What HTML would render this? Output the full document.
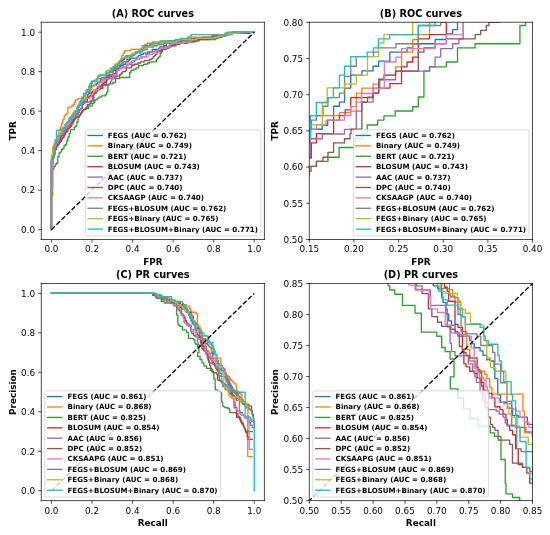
<!DOCTYPE html>
<html><head><meta charset="utf-8"><title>ROC and PR curves</title>
<style>html,body{margin:0;padding:0;background:#fff;}svg{display:block;}
text{font-family:"DejaVu Sans","Liberation Sans",sans-serif;}</style></head>
<body>
<svg width="550" height="535" viewBox="0 0 621.468927 604.519774" version="1.1">
 
 <defs>
  <style type="text/css">*{stroke-linejoin: round; stroke-linecap: butt}</style>
 </defs>
 <g id="figure_1">
  <g id="patch_1">
   <path d="M 0 604.51 L 621.46 604.51 L 621.46 0 L 0 0 z" style="fill: #ffffff"/>
  </g>
  <g id="axes_1">
   <g id="patch_2">
    <path d="M 46.66 270.62 L 298.75 270.62 L 298.75 25.19 L 46.66 25.19 z" style="fill: #ffffff"/>
   </g>
   <g id="matplotlib.axis_1">
    <g id="xtick_1">
     <g id="line2d_1">
      <defs>
       <path id="m1504cfccaf" d="M 0 0 L 0 3.5" style="stroke: #000000; stroke-width: 0.8"/>
      </defs>
      <g>
       <use href="#m1504cfccaf" x="58.125321" y="270.621469" style="stroke: #000000; stroke-width: 0.8"/>
      </g>
     </g>
     <g id="text_1">
      <text style="font-size: 10px; font-family: 'DejaVu Sans', 'Liberation Sans', sans-serif; text-anchor: middle" x="58.125321" y="285.219906" transform="rotate(-0 58.125321 285.219906)">0.0</text>
     </g>
    </g>
    <g id="xtick_2">
     <g id="line2d_2">
      <g>
       <use href="#m1504cfccaf" x="103.959938" y="270.621469" style="stroke: #000000; stroke-width: 0.8"/>
      </g>
     </g>
     <g id="text_2">
      <text style="font-size: 10px; font-family: 'DejaVu Sans', 'Liberation Sans', sans-serif; text-anchor: middle" x="103.959938" y="285.219906" transform="rotate(-0 103.959938 285.219906)">0.2</text>
     </g>
    </g>
    <g id="xtick_3">
     <g id="line2d_3">
      <g>
       <use href="#m1504cfccaf" x="149.794556" y="270.621469" style="stroke: #000000; stroke-width: 0.8"/>
      </g>
     </g>
     <g id="text_3">
      <text style="font-size: 10px; font-family: 'DejaVu Sans', 'Liberation Sans', sans-serif; text-anchor: middle" x="149.794556" y="285.219906" transform="rotate(-0 149.794556 285.219906)">0.4</text>
     </g>
    </g>
    <g id="xtick_4">
     <g id="line2d_4">
      <g>
       <use href="#m1504cfccaf" x="195.629173" y="270.621469" style="stroke: #000000; stroke-width: 0.8"/>
      </g>
     </g>
     <g id="text_4">
      <text style="font-size: 10px; font-family: 'DejaVu Sans', 'Liberation Sans', sans-serif; text-anchor: middle" x="195.629173" y="285.219906" transform="rotate(-0 195.629173 285.219906)">0.6</text>
     </g>
    </g>
    <g id="xtick_5">
     <g id="line2d_5">
      <g>
       <use href="#m1504cfccaf" x="241.46379" y="270.621469" style="stroke: #000000; stroke-width: 0.8"/>
      </g>
     </g>
     <g id="text_5">
      <text style="font-size: 10px; font-family: 'DejaVu Sans', 'Liberation Sans', sans-serif; text-anchor: middle" x="241.46379" y="285.219906" transform="rotate(-0 241.46379 285.219906)">0.8</text>
     </g>
    </g>
    <g id="xtick_6">
     <g id="line2d_6">
      <g>
       <use href="#m1504cfccaf" x="287.298408" y="270.621469" style="stroke: #000000; stroke-width: 0.8"/>
      </g>
     </g>
     <g id="text_6">
      <text style="font-size: 10px; font-family: 'DejaVu Sans', 'Liberation Sans', sans-serif; text-anchor: middle" x="287.298408" y="285.219906" transform="rotate(-0 287.298408 285.219906)">1.0</text>
     </g>
    </g>
    <g id="text_7">
     <text style="font-weight: 700; font-size: 10px; font-family: 'DejaVu Sans', 'Liberation Sans', sans-serif; text-anchor: middle" x="172.711864" y="298.898031" transform="rotate(-0 172.711864 298.898031)">FPR</text>
    </g>
   </g>
   <g id="matplotlib.axis_2">
    <g id="ytick_1">
     <g id="line2d_7">
      <defs>
       <path id="m5d545ce8f8" d="M 0 0 L -3.5 0" style="stroke: #000000; stroke-width: 0.8"/>
      </defs>
      <g>
       <use href="#m5d545ce8f8" x="46.666667" y="259.465845" style="stroke: #000000; stroke-width: 0.8"/>
      </g>
     </g>
     <g id="text_8">
      <text style="font-size: 10px; font-family: 'DejaVu Sans', 'Liberation Sans', sans-serif; text-anchor: end" x="39.666667" y="263.265064" transform="rotate(-0 39.666667 263.265064)">0.0</text>
     </g>
    </g>
    <g id="ytick_2">
     <g id="line2d_8">
      <g>
       <use href="#m5d545ce8f8" x="46.666667" y="214.843349" style="stroke: #000000; stroke-width: 0.8"/>
      </g>
     </g>
     <g id="text_9">
      <text style="font-size: 10px; font-family: 'DejaVu Sans', 'Liberation Sans', sans-serif; text-anchor: end" x="39.666667" y="218.642567" transform="rotate(-0 39.666667 218.642567)">0.2</text>
     </g>
    </g>
    <g id="ytick_3">
     <g id="line2d_9">
      <g>
       <use href="#m5d545ce8f8" x="46.666667" y="170.220853" style="stroke: #000000; stroke-width: 0.8"/>
      </g>
     </g>
     <g id="text_10">
      <text style="font-size: 10px; font-family: 'DejaVu Sans', 'Liberation Sans', sans-serif; text-anchor: end" x="39.666667" y="174.020071" transform="rotate(-0 39.666667 174.020071)">0.4</text>
     </g>
    </g>
    <g id="ytick_4">
     <g id="line2d_10">
      <g>
       <use href="#m5d545ce8f8" x="46.666667" y="125.598356" style="stroke: #000000; stroke-width: 0.8"/>
      </g>
     </g>
     <g id="text_11">
      <text style="font-size: 10px; font-family: 'DejaVu Sans', 'Liberation Sans', sans-serif; text-anchor: end" x="39.666667" y="129.397575" transform="rotate(-0 39.666667 129.397575)">0.6</text>
     </g>
    </g>
    <g id="ytick_5">
     <g id="line2d_11">
      <g>
       <use href="#m5d545ce8f8" x="46.666667" y="80.97586" style="stroke: #000000; stroke-width: 0.8"/>
      </g>
     </g>
     <g id="text_12">
      <text style="font-size: 10px; font-family: 'DejaVu Sans', 'Liberation Sans', sans-serif; text-anchor: end" x="39.666667" y="84.775079" transform="rotate(-0 39.666667 84.775079)">0.8</text>
     </g>
    </g>
    <g id="ytick_6">
     <g id="line2d_12">
      <g>
       <use href="#m5d545ce8f8" x="46.666667" y="36.353364" style="stroke: #000000; stroke-width: 0.8"/>
      </g>
     </g>
     <g id="text_13">
      <text style="font-size: 10px; font-family: 'DejaVu Sans', 'Liberation Sans', sans-serif; text-anchor: end" x="39.666667" y="40.152583" transform="rotate(-0 39.666667 40.152583)">1.0</text>
     </g>
    </g>
    <g id="text_14">
     <text style="font-weight: 700; font-size: 10px; font-family: 'DejaVu Sans', 'Liberation Sans', sans-serif; text-anchor: middle" x="17.683854" y="147.909605" transform="rotate(-90 17.683854 147.909605)">TPR</text>
    </g>
   </g>
   <g id="line2d_13">
    <path d="M 58.12 259.46 L 58.12 181.65 L 59.55 181.65 L 59.55 173.28 L 60.98 173.28 L 60.98 169.10 L 62.42 169.10 L 62.42 164.92 L 63.85 164.92 L 63.85 162.13 L 65.28 162.13 L 65.28 157.94 L 66.71 157.94 L 66.71 156.55 L 68.15 156.55 L 68.15 153.76 L 69.58 153.76 L 69.58 152.37 L 71.01 152.37 L 71.01 148.18 L 72.44 148.18 L 72.44 145.39 L 73.88 145.39 L 73.88 144.00 L 75.31 144.00 L 75.31 141.21 L 76.74 141.21 L 76.74 138.42 L 78.17 138.42 L 78.17 135.63 L 79.61 135.63 L 79.61 134.24 L 81.04 134.24 L 81.04 131.45 L 82.47 131.45 L 82.47 128.66 L 83.90 128.66 L 83.90 127.27 L 85.33 127.27 L 85.33 125.87 L 86.77 125.87 L 86.77 124.48 L 88.20 124.48 L 88.20 120.29 L 89.63 120.29 L 89.63 118.90 L 91.06 118.90 L 91.06 117.51 L 92.79 117.51 L 92.79 113.92 L 95.82 113.92 L 95.82 112.70 L 97.22 112.70 L 97.22 111.14 L 98.73 111.14 L 98.73 106.85 L 100.24 106.85 L 100.24 105.56 L 101.55 105.56 L 101.55 101.25 L 103.13 101.25 L 103.13 97.26 L 105.99 97.26 L 105.99 95.92 L 108.88 95.92 L 108.88 94.51 L 110.30 94.51 L 110.30 92.95 L 113.19 92.95 L 113.19 90.16 L 117.59 90.16 L 117.59 88.87 L 119.03 88.87 L 119.03 87.57 L 124.79 87.57 L 124.79 86.28 L 127.67 86.28 L 127.67 84.54 L 129.28 84.54 L 129.28 83.25 L 130.54 83.25 L 130.54 79.58 L 131.97 79.58 L 131.97 78.18 L 133.40 78.18 L 133.40 76.79 L 134.84 76.79 L 134.84 75.39 L 136.27 75.39 L 136.27 74.00 L 139.13 74.00 L 139.13 72.60 L 142.00 72.60 L 142.00 69.82 L 144.86 69.82 L 144.86 68.42 L 146.29 68.42 L 146.29 67.03 L 147.73 67.03 L 147.73 65.63 L 154.89 65.63 L 154.89 64.24 L 156.32 64.24 L 156.32 62.84 L 159.19 62.84 L 159.19 61.45 L 162.05 61.45 L 162.05 60.05 L 166.35 60.05 L 166.35 58.66 L 172.08 58.66 L 172.08 55.87 L 179.24 55.87 L 179.24 54.48 L 180.67 54.48 L 180.67 53.08 L 184.97 53.08 L 184.97 51.69 L 187.83 51.69 L 187.83 48.90 L 196.43 48.90 L 196.43 47.50 L 203.59 47.50 L 203.59 46.11 L 216.48 46.11 L 216.48 44.72 L 220.78 44.72 L 220.78 43.32 L 239.40 43.32 L 239.40 41.93 L 246.56 41.93 L 246.56 40.53 L 250.85 40.53 L 250.85 39.14 L 256.58 39.14 L 256.58 37.74 L 262.31 37.74 L 262.31 36.35 L 287.29 36.35 L 287.29 36.35" clip-path="url(#pe0418c8fc1)" style="fill: none; stroke: #1f77b4; stroke-width: 1.5; stroke-linecap: square"/>
   </g>
   <g id="line2d_14">
    <path d="M 58.12 259.46 L 58.12 221.53 L 59.55 221.53 L 59.55 171.33 L 60.98 171.33 L 60.98 165.75 L 62.42 165.75 L 62.42 162.96 L 63.85 162.96 L 63.85 158.78 L 65.28 158.78 L 65.28 155.99 L 66.71 155.99 L 66.71 147.63 L 68.15 147.63 L 68.15 143.44 L 69.58 143.44 L 69.58 139.26 L 71.01 139.26 L 71.01 135.08 L 72.44 135.08 L 72.44 130.89 L 73.88 130.89 L 73.88 129.50 L 75.31 129.50 L 75.31 128.10 L 76.74 128.10 L 76.74 121.13 L 81.04 121.13 L 81.04 119.74 L 82.47 119.74 L 82.47 118.34 L 83.90 118.34 L 83.90 115.55 L 85.33 115.55 L 85.33 112.76 L 88.20 112.76 L 88.20 111.37 L 92.43 111.37 L 92.43 109.71 L 100.24 109.71 L 100.24 108.79 L 103.13 108.79 L 103.13 108.32 L 104.55 108.32 L 104.55 102.79 L 105.99 102.79 L 105.99 101.25 L 108.88 101.25 L 108.88 100.02 L 110.30 100.02 L 110.30 98.60 L 111.66 98.60 L 111.66 97.30 L 114.63 97.30 L 114.63 94.69 L 116.17 94.69 L 116.17 90.16 L 119.03 90.16 L 119.03 86.28 L 120.48 86.28 L 120.48 84.76 L 123.37 84.76 L 123.37 80.97 L 124.80 80.97 L 124.80 79.58 L 126.23 79.58 L 126.23 76.79 L 130.53 76.79 L 130.53 74.00 L 133.39 74.00 L 133.39 72.60 L 134.82 72.60 L 134.82 69.82 L 136.26 69.82 L 136.26 67.03 L 137.69 67.03 L 137.69 62.84 L 139.12 62.84 L 139.12 60.05 L 140.55 60.05 L 140.55 57.27 L 147.72 57.27 L 147.72 55.87 L 160.61 55.87 L 160.61 51.69 L 163.47 51.69 L 163.47 50.29 L 166.34 50.29 L 166.34 48.90 L 172.07 48.90 L 172.07 47.50 L 183.52 47.50 L 183.52 46.11 L 200.71 46.11 L 200.71 44.72 L 210.74 44.72 L 210.74 43.32 L 212.17 43.32 L 212.17 41.93 L 239.38 41.93 L 239.38 40.53 L 253.71 40.53 L 253.71 37.74 L 272.33 37.74 L 272.33 36.35 L 287.29 36.35 L 287.29 36.35" clip-path="url(#pe0418c8fc1)" style="fill: none; stroke: #ff7f0e; stroke-width: 1.5; stroke-linecap: square"/>
   </g>
   <g id="line2d_15">
    <path d="M 58.12 259.46 L 58.12 192.53 L 59.55 192.53 L 59.55 191.13 L 60.98 191.13 L 60.98 188.34 L 62.42 188.34 L 62.42 185.55 L 63.85 185.55 L 63.85 184.16 L 65.28 184.16 L 65.28 177.19 L 66.71 177.19 L 66.71 173.00 L 68.15 173.00 L 68.15 171.61 L 69.58 171.61 L 69.58 168.82 L 71.01 168.82 L 71.01 167.43 L 72.44 167.43 L 72.44 164.64 L 73.88 164.64 L 73.88 163.24 L 75.31 163.24 L 75.31 159.06 L 76.74 159.06 L 76.74 154.88 L 78.17 154.88 L 78.17 150.69 L 79.61 150.69 L 79.61 146.51 L 83.90 146.51 L 83.90 143.72 L 85.33 143.72 L 85.33 142.33 L 86.77 142.33 L 86.77 138.14 L 88.20 138.14 L 88.20 132.57 L 89.63 132.57 L 89.63 129.78 L 91.06 129.78 L 91.06 128.38 L 92.43 128.38 L 92.43 125.37 L 94.33 125.37 L 94.33 123.85 L 97.29 123.85 L 97.29 122.56 L 100.15 122.56 L 100.15 119.55 L 104.30 119.55 L 104.30 116.78 L 106.02 116.78 L 106.02 115.44 L 107.35 115.44 L 107.35 112.63 L 110.05 112.63 L 110.05 111.11 L 111.66 111.11 L 111.66 109.82 L 114.54 109.82 L 114.54 108.30 L 119.03 108.30 L 119.03 107.01 L 120.48 107.01 L 120.48 104.00 L 121.92 104.00 L 121.92 96.01 L 123.37 96.01 L 123.37 94.69 L 127.67 94.69 L 127.67 93.20 L 130.54 93.20 L 130.54 88.87 L 135.05 88.87 L 135.05 87.57 L 146.56 87.57 L 146.56 81.95 L 148.00 81.95 L 148.00 79.58 L 150.87 79.58 L 150.87 78.18 L 153.73 78.18 L 153.73 76.79 L 156.60 76.79 L 156.60 74.00 L 162.33 74.00 L 162.33 72.60 L 166.62 72.60 L 166.62 71.21 L 169.49 71.21 L 169.49 69.82 L 176.65 69.82 L 176.65 67.03 L 178.08 67.03 L 178.08 65.63 L 179.51 65.63 L 179.51 64.24 L 180.95 64.24 L 180.95 60.05 L 182.38 60.05 L 182.38 58.66 L 183.81 58.66 L 183.81 55.87 L 188.11 55.87 L 188.11 54.48 L 190.97 54.48 L 190.97 51.69 L 192.40 51.69 L 192.40 50.29 L 198.13 50.29 L 198.13 48.90 L 199.57 48.90 L 199.57 47.50 L 203.86 47.50 L 203.86 46.11 L 225.35 46.11 L 225.35 44.72 L 243.97 44.72 L 243.97 43.32 L 246.83 43.32 L 246.83 41.93 L 251.13 41.93 L 251.13 40.53 L 255.43 40.53 L 255.43 37.74 L 271.18 37.74 L 271.18 36.35 L 287.29 36.35 L 287.29 36.35" clip-path="url(#pe0418c8fc1)" style="fill: none; stroke: #2ca02c; stroke-width: 1.5; stroke-linecap: square"/>
   </g>
   <g id="line2d_16">
    <path d="M 58.12 259.46 L 58.12 188.34 L 59.55 188.34 L 59.55 178.58 L 60.98 178.58 L 60.98 174.40 L 62.42 174.40 L 62.42 168.82 L 63.85 168.82 L 63.85 164.64 L 65.28 164.64 L 65.28 163.24 L 66.71 163.24 L 66.71 159.06 L 68.15 159.06 L 68.15 157.67 L 69.58 157.67 L 69.58 153.48 L 71.01 153.48 L 71.01 152.09 L 72.44 152.09 L 72.44 150.69 L 73.88 150.69 L 73.88 147.90 L 75.31 147.90 L 75.31 145.12 L 76.74 145.12 L 76.74 143.72 L 78.17 143.72 L 78.17 142.33 L 79.61 142.33 L 79.61 139.54 L 81.04 139.54 L 81.04 138.14 L 82.47 138.14 L 82.47 135.35 L 83.90 135.35 L 83.90 132.57 L 85.33 132.57 L 85.33 129.78 L 88.20 129.78 L 88.20 126.99 L 89.63 126.99 L 89.63 124.20 L 91.06 124.20 L 91.06 122.80 L 93.02 122.80 L 93.02 118.14 L 94.31 118.14 L 94.31 115.29 L 98.73 115.29 L 98.73 111.14 L 100.24 111.14 L 100.24 109.71 L 101.69 109.71 L 101.69 107.97 L 103.13 107.97 L 103.13 104.17 L 108.74 104.17 L 108.74 102.79 L 110.30 102.79 L 110.30 101.25 L 113.19 101.25 L 113.19 99.89 L 116.17 99.89 L 116.17 94.69 L 117.59 94.69 L 117.59 93.20 L 119.03 93.20 L 119.03 91.68 L 120.48 91.68 L 120.48 86.06 L 123.37 86.06 L 123.37 84.76 L 127.67 84.76 L 127.67 79.58 L 129.11 79.58 L 129.11 78.18 L 130.54 78.18 L 130.54 76.79 L 131.97 76.79 L 131.97 74.00 L 133.40 74.00 L 133.40 72.60 L 134.84 72.60 L 134.84 69.82 L 137.70 69.82 L 137.70 68.42 L 139.13 68.42 L 139.13 67.03 L 140.57 67.03 L 140.57 65.63 L 143.43 65.63 L 143.43 64.24 L 144.86 64.24 L 144.86 62.84 L 147.73 62.84 L 147.73 61.45 L 152.02 61.45 L 152.02 60.05 L 153.46 60.05 L 153.46 58.66 L 157.75 58.66 L 157.75 55.87 L 162.05 55.87 L 162.05 54.48 L 163.48 54.48 L 163.48 53.08 L 164.91 53.08 L 164.91 51.69 L 170.64 51.69 L 170.64 50.29 L 182.10 50.29 L 182.10 48.90 L 184.97 48.90 L 184.97 47.50 L 190.70 47.50 L 190.70 46.11 L 199.29 46.11 L 199.29 44.72 L 223.64 44.72 L 223.64 43.32 L 237.96 43.32 L 237.96 41.93 L 239.40 41.93 L 239.40 40.53 L 253.72 40.53 L 253.72 39.14 L 256.58 39.14 L 256.58 37.74 L 282.37 37.74 L 282.37 36.35 L 287.29 36.35 L 287.29 36.35" clip-path="url(#pe0418c8fc1)" style="fill: none; stroke: #d62728; stroke-width: 1.5; stroke-linecap: square"/>
   </g>
   <g id="line2d_17">
    <path d="M 58.12 259.46 L 58.12 183.88 L 59.55 183.88 L 59.55 176.91 L 60.98 176.91 L 60.98 171.33 L 62.42 171.33 L 62.42 167.15 L 63.85 167.15 L 63.85 164.36 L 65.28 164.36 L 65.28 162.96 L 66.71 162.96 L 66.71 160.18 L 68.15 160.18 L 68.15 158.78 L 69.58 158.78 L 69.58 154.60 L 71.01 154.60 L 71.01 151.81 L 72.44 151.81 L 72.44 149.02 L 73.88 149.02 L 73.88 146.23 L 75.31 146.23 L 75.31 144.84 L 76.74 144.84 L 76.74 143.44 L 78.17 143.44 L 78.17 140.65 L 79.61 140.65 L 79.61 136.47 L 81.04 136.47 L 81.04 135.08 L 82.47 135.08 L 82.47 133.68 L 83.90 133.68 L 83.90 132.29 L 85.33 132.29 L 85.33 129.50 L 86.77 129.50 L 86.77 128.10 L 88.20 128.10 L 88.20 126.71 L 89.63 126.71 L 89.63 123.92 L 91.06 123.92 L 91.06 122.53 L 92.79 122.53 L 92.79 116.85 L 95.82 116.85 L 95.82 115.40 L 101.53 115.40 L 101.53 113.99 L 104.55 113.99 L 104.55 108.32 L 105.99 108.32 L 105.99 105.56 L 108.88 105.56 L 108.88 101.25 L 110.60 101.25 L 110.60 98.66 L 114.63 98.66 L 114.63 96.01 L 123.37 96.01 L 123.37 94.69 L 124.79 94.69 L 124.79 91.68 L 126.23 91.68 L 126.23 89.09 L 129.28 89.09 L 129.28 87.57 L 130.91 87.57 L 130.91 86.06 L 131.98 86.06 L 131.98 79.58 L 134.85 79.58 L 134.85 76.79 L 142.01 76.79 L 142.01 75.39 L 143.44 75.39 L 143.44 72.60 L 149.17 72.60 L 149.17 69.82 L 152.04 69.82 L 152.04 68.42 L 153.47 68.42 L 153.47 67.03 L 157.76 67.03 L 157.76 65.63 L 160.63 65.63 L 160.63 64.24 L 164.93 64.24 L 164.93 61.45 L 167.79 61.45 L 167.79 60.05 L 169.22 60.05 L 169.22 58.66 L 174.95 58.66 L 174.95 57.27 L 180.68 57.27 L 180.68 55.87 L 183.55 55.87 L 183.55 54.48 L 184.98 54.48 L 184.98 53.08 L 193.57 53.08 L 193.57 51.69 L 195.01 51.69 L 195.01 50.29 L 196.44 50.29 L 196.44 48.90 L 212.19 48.90 L 212.19 47.50 L 213.63 47.50 L 213.63 46.11 L 217.92 46.11 L 217.92 44.72 L 219.36 44.72 L 219.36 43.32 L 240.84 43.32 L 240.84 41.93 L 248.00 41.93 L 248.00 40.53 L 255.16 40.53 L 255.16 39.14 L 262.33 39.14 L 262.33 37.74 L 276.65 37.74 L 276.65 36.35 L 287.29 36.35 L 287.29 36.35" clip-path="url(#pe0418c8fc1)" style="fill: none; stroke: #9467bd; stroke-width: 1.5; stroke-linecap: square"/>
   </g>
   <g id="line2d_18">
    <path d="M 58.12 259.46 L 58.12 183.32 L 59.55 183.32 L 59.55 174.96 L 60.98 174.96 L 60.98 170.77 L 62.42 170.77 L 62.42 166.59 L 63.85 166.59 L 63.85 165.20 L 65.28 165.20 L 65.28 162.41 L 66.71 162.41 L 66.71 161.01 L 68.15 161.01 L 68.15 159.62 L 69.58 159.62 L 69.58 156.83 L 71.01 156.83 L 71.01 155.43 L 72.44 155.43 L 72.44 152.65 L 73.88 152.65 L 73.88 149.86 L 75.31 149.86 L 75.31 148.46 L 76.74 148.46 L 76.74 145.67 L 78.17 145.67 L 78.17 144.28 L 79.61 144.28 L 79.61 142.88 L 81.04 142.88 L 81.04 140.10 L 82.47 140.10 L 82.47 137.31 L 83.90 137.31 L 83.90 134.52 L 85.33 134.52 L 85.33 133.12 L 86.77 133.12 L 86.77 131.73 L 89.63 131.73 L 89.63 130.33 L 91.06 130.33 L 91.06 127.55 L 92.43 127.55 L 92.43 126.89 L 92.95 126.89 L 92.95 125.37 L 94.33 125.37 L 94.33 123.85 L 96.03 123.85 L 96.03 122.56 L 97.29 122.56 L 97.29 121.04 L 98.73 121.04 L 98.73 118.14 L 101.53 118.14 L 101.53 116.85 L 102.95 116.85 L 102.95 115.29 L 103.20 115.29 L 103.20 113.92 L 105.99 113.92 L 105.99 105.56 L 107.44 105.56 L 107.44 104.02 L 108.88 104.02 L 108.88 102.79 L 110.30 102.79 L 110.30 98.49 L 111.75 98.49 L 111.75 97.26 L 114.63 97.26 L 114.63 96.01 L 120.48 96.01 L 120.48 90.16 L 121.92 90.16 L 121.92 88.87 L 124.79 88.87 L 124.79 87.57 L 127.67 87.57 L 127.67 86.06 L 135.05 86.06 L 135.05 84.76 L 136.47 84.76 L 136.47 83.47 L 137.92 83.47 L 137.92 81.95 L 138.63 81.95 L 138.63 80.97 L 141.49 80.97 L 141.49 79.58 L 142.93 79.58 L 142.93 76.79 L 148.66 76.79 L 148.66 74.00 L 151.52 74.00 L 151.52 72.60 L 155.82 72.60 L 155.82 71.21 L 158.68 71.21 L 158.68 69.82 L 162.98 69.82 L 162.98 68.42 L 168.71 68.42 L 168.71 67.03 L 171.57 67.03 L 171.57 65.63 L 173.00 65.63 L 173.00 64.24 L 174.44 64.24 L 174.44 62.84 L 175.87 62.84 L 175.87 61.45 L 177.30 61.45 L 177.30 58.66 L 181.60 58.66 L 181.60 57.27 L 183.03 57.27 L 183.03 55.87 L 185.90 55.87 L 185.90 54.48 L 190.19 54.48 L 190.19 53.08 L 191.63 53.08 L 191.63 51.69 L 198.79 51.69 L 198.79 50.29 L 203.08 50.29 L 203.08 48.90 L 208.81 48.90 L 208.81 47.50 L 220.27 47.50 L 220.27 46.11 L 223.14 46.11 L 223.14 44.72 L 237.46 44.72 L 237.46 43.32 L 243.19 43.32 L 243.19 41.93 L 244.62 41.93 L 244.62 40.53 L 254.65 40.53 L 254.65 39.14 L 258.94 39.14 L 258.94 37.74 L 266.11 37.74 L 266.11 36.35 L 287.29 36.35 L 287.29 36.35" clip-path="url(#pe0418c8fc1)" style="fill: none; stroke: #8c564b; stroke-width: 1.5; stroke-linecap: square"/>
   </g>
   <g id="line2d_19">
    <path d="M 58.12 259.46 L 58.12 213.44 L 59.55 213.44 L 59.55 177.19 L 60.98 177.19 L 60.98 167.43 L 62.42 167.43 L 62.42 163.24 L 63.85 163.24 L 63.85 161.85 L 65.28 161.85 L 65.28 157.67 L 66.71 157.67 L 66.71 153.48 L 68.15 153.48 L 68.15 152.09 L 69.58 152.09 L 69.58 149.30 L 71.01 149.30 L 71.01 146.51 L 72.44 146.51 L 72.44 145.12 L 73.88 145.12 L 73.88 143.72 L 75.31 143.72 L 75.31 140.93 L 76.74 140.93 L 76.74 139.54 L 78.17 139.54 L 78.17 138.14 L 79.61 138.14 L 79.61 133.96 L 81.04 133.96 L 81.04 132.57 L 82.47 132.57 L 82.47 129.78 L 83.90 129.78 L 83.90 126.99 L 86.77 126.99 L 86.77 122.80 L 88.20 122.80 L 88.20 121.41 L 89.63 121.41 L 89.63 118.62 L 91.06 118.62 L 91.06 117.23 L 92.79 117.23 L 92.79 113.99 L 94.31 113.99 L 94.31 112.56 L 96.78 112.56 L 96.78 111.14 L 101.53 111.14 L 101.53 109.71 L 103.13 109.71 L 103.13 106.94 L 104.55 106.94 L 104.55 105.56 L 105.90 105.56 L 105.90 102.90 L 108.97 102.90 L 108.97 101.41 L 111.75 101.41 L 111.75 93.20 L 114.73 93.20 L 114.73 91.68 L 116.17 91.68 L 116.17 89.09 L 124.79 89.09 L 124.79 87.57 L 127.67 87.57 L 127.67 84.76 L 131.98 84.76 L 131.98 79.58 L 134.85 79.58 L 134.85 78.18 L 137.71 78.18 L 137.71 75.39 L 143.44 75.39 L 143.44 74.00 L 144.87 74.00 L 144.87 72.60 L 146.31 72.60 L 146.31 71.21 L 147.74 71.21 L 147.74 69.82 L 149.17 69.82 L 149.17 68.42 L 153.47 68.42 L 153.47 67.03 L 157.76 67.03 L 157.76 65.63 L 159.20 65.63 L 159.20 64.24 L 167.79 64.24 L 167.79 61.45 L 172.09 61.45 L 172.09 60.05 L 176.39 60.05 L 176.39 57.27 L 179.25 57.27 L 179.25 55.87 L 180.68 55.87 L 180.68 54.48 L 187.84 54.48 L 187.84 53.08 L 192.14 53.08 L 192.14 50.29 L 193.57 50.29 L 193.57 48.90 L 207.90 48.90 L 207.90 47.50 L 215.06 47.50 L 215.06 46.11 L 216.49 46.11 L 216.49 44.72 L 219.36 44.72 L 219.36 43.32 L 236.54 43.32 L 236.54 41.93 L 249.43 41.93 L 249.43 40.53 L 253.73 40.53 L 253.73 39.14 L 260.89 39.14 L 260.89 37.74 L 270.92 37.74 L 270.92 36.35 L 287.29 36.35 L 287.29 36.35" clip-path="url(#pe0418c8fc1)" style="fill: none; stroke: #e377c2; stroke-width: 1.5; stroke-linecap: square"/>
   </g>
   <g id="line2d_20">
    <path d="M 58.12 259.46 L 58.12 179.42 L 59.55 179.42 L 59.55 168.26 L 60.98 168.26 L 60.98 164.08 L 62.42 164.08 L 62.42 162.69 L 63.85 162.69 L 63.85 157.11 L 65.28 157.11 L 65.28 154.32 L 66.71 154.32 L 66.71 152.92 L 68.15 152.92 L 68.15 150.14 L 69.58 150.14 L 69.58 148.74 L 71.01 148.74 L 71.01 145.95 L 72.44 145.95 L 72.44 144.56 L 73.88 144.56 L 73.88 140.37 L 75.31 140.37 L 75.31 138.98 L 76.74 138.98 L 76.74 137.59 L 78.17 137.59 L 78.17 133.40 L 81.04 133.40 L 81.04 130.61 L 82.47 130.61 L 82.47 127.82 L 83.90 127.82 L 83.90 126.43 L 85.33 126.43 L 85.33 125.04 L 86.77 125.04 L 86.77 120.85 L 88.20 120.85 L 88.20 119.46 L 89.63 119.46 L 89.63 115.27 L 91.06 115.27 L 91.06 113.88 L 93.02 113.88 L 93.02 111.14 L 94.31 111.14 L 94.31 109.71 L 96.03 109.71 L 96.03 106.85 L 97.29 106.85 L 97.29 104.17 L 100.24 104.17 L 100.24 102.79 L 101.55 102.79 L 101.55 97.62 L 103.13 97.62 L 103.13 94.51 L 104.55 94.51 L 104.55 91.57 L 108.97 91.57 L 108.97 90.16 L 110.23 90.16 L 110.23 88.87 L 114.73 88.87 L 114.73 87.57 L 120.48 87.57 L 120.48 81.95 L 126.23 81.95 L 126.23 80.97 L 127.66 80.97 L 127.66 78.18 L 129.10 78.18 L 129.10 76.79 L 130.53 76.79 L 130.53 75.39 L 131.96 75.39 L 131.96 74.00 L 136.26 74.00 L 136.26 72.60 L 137.69 72.60 L 137.69 71.21 L 139.12 71.21 L 139.12 69.82 L 143.42 69.82 L 143.42 67.03 L 146.28 67.03 L 146.28 64.24 L 149.15 64.24 L 149.15 62.84 L 150.58 62.84 L 150.58 61.45 L 152.01 61.45 L 152.01 60.05 L 159.17 60.05 L 159.17 58.66 L 160.61 58.66 L 160.61 57.27 L 163.47 57.27 L 163.47 55.87 L 166.34 55.87 L 166.34 53.08 L 173.50 53.08 L 173.50 51.69 L 177.79 51.69 L 177.79 50.29 L 184.96 50.29 L 184.96 48.90 L 190.69 48.90 L 190.69 47.50 L 199.28 47.50 L 199.28 46.11 L 207.87 46.11 L 207.87 44.72 L 215.04 44.72 L 215.04 43.32 L 227.93 43.32 L 227.93 41.93 L 250.84 41.93 L 250.84 40.53 L 252.28 40.53 L 252.28 39.14 L 253.71 39.14 L 253.71 37.74 L 260.87 37.74 L 260.87 36.35 L 287.29 36.35 L 287.29 36.35" clip-path="url(#pe0418c8fc1)" style="fill: none; stroke: #7f7f7f; stroke-width: 1.5; stroke-linecap: square"/>
   </g>
   <g id="line2d_21">
    <path d="M 58.12 259.46 L 58.12 174.96 L 59.55 174.96 L 59.55 165.20 L 60.98 165.20 L 60.98 162.41 L 62.42 162.41 L 62.42 158.22 L 63.85 158.22 L 63.85 156.83 L 65.28 156.83 L 65.28 152.65 L 66.71 152.65 L 66.71 151.25 L 68.15 151.25 L 68.15 149.86 L 69.58 149.86 L 69.58 147.07 L 71.01 147.07 L 71.01 144.28 L 72.44 144.28 L 72.44 141.49 L 73.88 141.49 L 73.88 140.10 L 76.74 140.10 L 76.74 137.31 L 78.17 137.31 L 78.17 133.12 L 79.61 133.12 L 79.61 131.73 L 81.04 131.73 L 81.04 128.94 L 82.47 128.94 L 82.47 127.55 L 83.90 127.55 L 83.90 124.76 L 86.77 124.76 L 86.77 121.97 L 88.20 121.97 L 88.20 119.18 L 89.63 119.18 L 89.63 116.39 L 92.79 116.39 L 92.79 112.56 L 95.82 112.56 L 95.82 105.69 L 97.08 105.69 L 97.08 101.18 L 101.55 101.18 L 101.55 100.02 L 104.55 100.02 L 104.55 97.26 L 107.44 97.26 L 107.44 91.57 L 110.30 91.57 L 110.30 87.35 L 111.66 87.35 L 111.66 84.76 L 119.03 84.76 L 119.03 80.97 L 120.47 80.97 L 120.47 79.58 L 123.33 79.58 L 123.33 78.18 L 124.76 78.18 L 124.76 76.79 L 127.63 76.79 L 127.63 75.39 L 129.06 75.39 L 129.06 72.60 L 131.93 72.60 L 131.93 71.21 L 133.36 71.21 L 133.36 69.82 L 134.79 69.82 L 134.79 68.42 L 136.22 68.42 L 136.22 65.63 L 144.82 65.63 L 144.82 64.24 L 146.25 64.24 L 146.25 62.84 L 147.68 62.84 L 147.68 61.45 L 149.11 61.45 L 149.11 60.05 L 156.28 60.05 L 156.28 57.27 L 157.71 57.27 L 157.71 55.87 L 163.44 55.87 L 163.44 54.48 L 166.30 54.48 L 166.30 53.08 L 170.60 53.08 L 170.60 51.69 L 172.03 51.69 L 172.03 50.29 L 177.76 50.29 L 177.76 48.90 L 184.92 48.90 L 184.92 47.50 L 199.25 47.50 L 199.25 46.11 L 202.11 46.11 L 202.11 44.72 L 222.16 44.72 L 222.16 43.32 L 243.65 43.32 L 243.65 41.93 L 246.51 41.93 L 246.51 40.53 L 252.24 40.53 L 252.24 39.14 L 253.67 39.14 L 253.67 37.74 L 268.00 37.74 L 268.00 36.35 L 287.29 36.35 L 287.29 36.35" clip-path="url(#pe0418c8fc1)" style="fill: none; stroke: #bcbd22; stroke-width: 1.5; stroke-linecap: square"/>
   </g>
   <g id="line2d_22">
    <path d="M 58.12 259.46 L 58.12 179.14 L 59.55 179.14 L 59.55 177.75 L 60.98 177.75 L 60.98 174.96 L 62.42 174.96 L 62.42 158.22 L 63.85 158.22 L 63.85 147.07 L 69.58 147.07 L 69.58 145.67 L 71.01 145.67 L 71.01 144.28 L 73.88 144.28 L 73.88 140.10 L 75.31 140.10 L 75.31 138.70 L 76.74 138.70 L 76.74 137.31 L 78.17 137.31 L 78.17 134.52 L 79.61 134.52 L 79.61 131.73 L 82.47 131.73 L 82.47 130.33 L 83.90 130.33 L 83.90 128.94 L 85.33 128.94 L 85.33 126.15 L 86.77 126.15 L 86.77 121.97 L 88.20 121.97 L 88.20 119.18 L 91.06 119.18 L 91.06 116.39 L 92.79 116.39 L 92.79 109.71 L 94.31 109.71 L 94.31 105.69 L 97.22 105.69 L 97.22 104.17 L 98.68 104.17 L 98.68 101.18 L 100.24 101.18 L 100.24 97.26 L 101.55 97.26 L 101.55 94.51 L 103.13 94.51 L 103.13 91.57 L 107.35 91.57 L 107.35 90.16 L 108.97 90.16 L 108.97 88.87 L 110.23 88.87 L 110.23 86.06 L 113.12 86.06 L 113.12 84.76 L 120.48 84.76 L 120.48 81.95 L 124.79 81.95 L 124.79 79.58 L 126.22 79.58 L 126.22 78.18 L 127.65 78.18 L 127.65 75.39 L 130.52 75.39 L 130.52 74.00 L 133.38 74.00 L 133.38 72.60 L 134.81 72.60 L 134.81 69.82 L 136.25 69.82 L 136.25 68.42 L 137.68 68.42 L 137.68 67.03 L 139.11 67.03 L 139.11 65.63 L 140.54 65.63 L 140.54 64.24 L 141.97 64.24 L 141.97 62.84 L 152.00 62.84 L 152.00 61.45 L 153.43 61.45 L 153.43 58.66 L 157.73 58.66 L 157.73 57.27 L 159.16 57.27 L 159.16 55.87 L 160.60 55.87 L 160.60 54.48 L 162.03 54.48 L 162.03 53.08 L 164.89 53.08 L 164.89 51.69 L 169.19 51.69 L 169.19 50.29 L 172.05 50.29 L 172.05 48.90 L 179.22 48.90 L 179.22 47.50 L 180.65 47.50 L 180.65 46.11 L 197.84 46.11 L 197.84 44.72 L 203.57 44.72 L 203.57 43.32 L 213.59 43.32 L 213.59 41.93 L 215.02 41.93 L 215.02 40.53 L 216.46 40.53 L 216.46 39.14 L 256.56 39.14 L 256.56 36.35 L 287.29 36.35 L 287.29 36.35" clip-path="url(#pe0418c8fc1)" style="fill: none; stroke: #17becf; stroke-width: 1.5; stroke-linecap: square"/>
   </g>
   <g id="line2d_23">
    <path d="M 58.12 259.46 L 287.29 36.35" clip-path="url(#pe0418c8fc1)" style="fill: none; stroke-dasharray: 5.55,2.4; stroke-dashoffset: 0; stroke: #000000; stroke-width: 1.5"/>
   </g>
   <g id="patch_3">
    <path d="M 46.66 270.62 L 46.66 25.19" style="fill: none; stroke: #000000; stroke-width: 0.8; stroke-linejoin: miter; stroke-linecap: square"/>
   </g>
   <g id="patch_4">
    <path d="M 298.75 270.62 L 298.75 25.19" style="fill: none; stroke: #000000; stroke-width: 0.8; stroke-linejoin: miter; stroke-linecap: square"/>
   </g>
   <g id="patch_5">
    <path d="M 46.66 270.62 L 298.75 270.62" style="fill: none; stroke: #000000; stroke-width: 0.8; stroke-linejoin: miter; stroke-linecap: square"/>
   </g>
   <g id="patch_6">
    <path d="M 46.66 25.19 L 298.75 25.19" style="fill: none; stroke: #000000; stroke-width: 0.8; stroke-linejoin: miter; stroke-linecap: square"/>
   </g>
   <g id="text_15">
    <text style="font-weight: 700; font-size: 11px; font-family: 'DejaVu Sans', 'Liberation Sans', sans-serif; text-anchor: middle" x="172.711864" y="19.19774" transform="rotate(-0 172.711864 19.19774)">(A) ROC curves</text>
   </g>
   <g id="legend_1">
    <g id="patch_7">
     <path d="M 97.88 266.62 L 293.15 266.62 Q 294.75 266.62 294.75 265.02 L 294.75 148.20 Q 294.75 146.60 293.15 146.60 L 97.88 146.60 Q 96.28 146.60 96.28 148.20 L 96.28 265.02 Q 96.28 266.62 97.88 266.62 z" style="fill: #ffffff; opacity: 0.8; stroke: #cccccc; stroke-linejoin: miter"/>
    </g>
    <g id="line2d_24">
     <path d="M 99.48 153.08 L 107.48 153.08 L 115.48 153.08" style="fill: none; stroke: #1f77b4; stroke-width: 1.5; stroke-linecap: square"/>
    </g>
    <g id="text_16">
     <text style="font-weight: 700; font-size: 8px; font-family: 'DejaVu Sans', 'Liberation Sans', sans-serif; text-anchor: start" x="121.889562" y="155.887719" transform="rotate(-0 121.889562 155.887719)">FEGS (AUC = 0.762)</text>
    </g>
    <g id="line2d_25">
     <path d="M 99.48 164.83 L 107.48 164.83 L 115.48 164.83" style="fill: none; stroke: #ff7f0e; stroke-width: 1.5; stroke-linecap: square"/>
    </g>
    <g id="text_17">
     <text style="font-weight: 700; font-size: 8px; font-family: 'DejaVu Sans', 'Liberation Sans', sans-serif; text-anchor: start" x="121.889562" y="167.630219" transform="rotate(-0 121.889562 167.630219)">Binary (AUC = 0.749)</text>
    </g>
    <g id="line2d_26">
     <path d="M 99.48 176.63 L 107.48 176.63 L 115.48 176.63" style="fill: none; stroke: #2ca02c; stroke-width: 1.5; stroke-linecap: square"/>
    </g>
    <g id="text_18">
     <text style="font-weight: 700; font-size: 8px; font-family: 'DejaVu Sans', 'Liberation Sans', sans-serif; text-anchor: start" x="121.889562" y="179.435219" transform="rotate(-0 121.889562 179.435219)">BERT (AUC = 0.721)</text>
    </g>
    <g id="line2d_27">
     <path d="M 99.48 188.37 L 107.48 188.37 L 115.48 188.37" style="fill: none; stroke: #d62728; stroke-width: 1.5; stroke-linecap: square"/>
    </g>
    <g id="text_19">
     <text style="font-weight: 700; font-size: 8px; font-family: 'DejaVu Sans', 'Liberation Sans', sans-serif; text-anchor: start" x="121.889562" y="191.177719" transform="rotate(-0 121.889562 191.177719)">BLOSUM (AUC = 0.743)</text>
    </g>
    <g id="line2d_28">
     <path d="M 99.48 200.12 L 107.48 200.12 L 115.48 200.12" style="fill: none; stroke: #9467bd; stroke-width: 1.5; stroke-linecap: square"/>
    </g>
    <g id="text_20">
     <text style="font-weight: 700; font-size: 8px; font-family: 'DejaVu Sans', 'Liberation Sans', sans-serif; text-anchor: start" x="121.889562" y="202.920219" transform="rotate(-0 121.889562 202.920219)">AAC (AUC = 0.737)</text>
    </g>
    <g id="line2d_29">
     <path d="M 99.48 211.86 L 107.48 211.86 L 115.48 211.86" style="fill: none; stroke: #8c564b; stroke-width: 1.5; stroke-linecap: square"/>
    </g>
    <g id="text_21">
     <text style="font-weight: 700; font-size: 8px; font-family: 'DejaVu Sans', 'Liberation Sans', sans-serif; text-anchor: start" x="121.889562" y="214.662719" transform="rotate(-0 121.889562 214.662719)">DPC (AUC = 0.740)</text>
    </g>
    <g id="line2d_30">
     <path d="M 99.48 223.60 L 107.48 223.60 L 115.48 223.60" style="fill: none; stroke: #e377c2; stroke-width: 1.5; stroke-linecap: square"/>
    </g>
    <g id="text_22">
     <text style="font-weight: 700; font-size: 8px; font-family: 'DejaVu Sans', 'Liberation Sans', sans-serif; text-anchor: start" x="121.889562" y="226.405219" transform="rotate(-0 121.889562 226.405219)">CKSAAGP (AUC = 0.740)</text>
    </g>
    <g id="line2d_31">
     <path d="M 99.48 235.34 L 107.48 235.34 L 115.48 235.34" style="fill: none; stroke: #7f7f7f; stroke-width: 1.5; stroke-linecap: square"/>
    </g>
    <g id="text_23">
     <text style="font-weight: 700; font-size: 8px; font-family: 'DejaVu Sans', 'Liberation Sans', sans-serif; text-anchor: start" x="121.889562" y="238.147719" transform="rotate(-0 121.889562 238.147719)">FEGS+BLOSUM (AUC = 0.762)</text>
    </g>
    <g id="line2d_32">
     <path d="M 99.48 247.09 L 107.48 247.09 L 115.48 247.09" style="fill: none; stroke: #bcbd22; stroke-width: 1.5; stroke-linecap: square"/>
    </g>
    <g id="text_24">
     <text style="font-weight: 700; font-size: 8px; font-family: 'DejaVu Sans', 'Liberation Sans', sans-serif; text-anchor: start" x="121.889562" y="249.890219" transform="rotate(-0 121.889562 249.890219)">FEGS+Binary (AUC = 0.765)</text>
    </g>
    <g id="line2d_33">
     <path d="M 99.48 258.89 L 107.48 258.89 L 115.48 258.89" style="fill: none; stroke: #17becf; stroke-width: 1.5; stroke-linecap: square"/>
    </g>
    <g id="text_25">
     <text style="font-weight: 700; font-size: 8px; font-family: 'DejaVu Sans', 'Liberation Sans', sans-serif; text-anchor: start" x="121.889562" y="261.695219" transform="rotate(-0 121.889562 261.695219)">FEGS+BLOSUM+Binary (AUC = 0.771)</text>
    </g>
   </g>
  </g>
  <g id="axes_2">
   <g id="patch_8">
    <path d="M 349.49 270.62 L 601.69 270.62 L 601.69 25.19 L 349.49 25.19 z" style="fill: #ffffff"/>
   </g>
   <g id="matplotlib.axis_3">
    <g id="xtick_7">
     <g id="line2d_34">
      <g>
       <use href="#m1504cfccaf" x="349.491525" y="270.621469" style="stroke: #000000; stroke-width: 0.8"/>
      </g>
     </g>
     <g id="text_26">
      <text style="font-size: 10px; font-family: 'DejaVu Sans', 'Liberation Sans', sans-serif; text-anchor: middle" x="349.491525" y="285.219906" transform="rotate(-0 349.491525 285.219906)">0.15</text>
     </g>
    </g>
    <g id="xtick_8">
     <g id="line2d_35">
      <g>
       <use href="#m1504cfccaf" x="399.932203" y="270.621469" style="stroke: #000000; stroke-width: 0.8"/>
      </g>
     </g>
     <g id="text_27">
      <text style="font-size: 10px; font-family: 'DejaVu Sans', 'Liberation Sans', sans-serif; text-anchor: middle" x="399.932203" y="285.219906" transform="rotate(-0 399.932203 285.219906)">0.20</text>
     </g>
    </g>
    <g id="xtick_9">
     <g id="line2d_36">
      <g>
       <use href="#m1504cfccaf" x="450.372881" y="270.621469" style="stroke: #000000; stroke-width: 0.8"/>
      </g>
     </g>
     <g id="text_28">
      <text style="font-size: 10px; font-family: 'DejaVu Sans', 'Liberation Sans', sans-serif; text-anchor: middle" x="450.372881" y="285.219906" transform="rotate(-0 450.372881 285.219906)">0.25</text>
     </g>
    </g>
    <g id="xtick_10">
     <g id="line2d_37">
      <g>
       <use href="#m1504cfccaf" x="500.813559" y="270.621469" style="stroke: #000000; stroke-width: 0.8"/>
      </g>
     </g>
     <g id="text_29">
      <text style="font-size: 10px; font-family: 'DejaVu Sans', 'Liberation Sans', sans-serif; text-anchor: middle" x="500.813559" y="285.219906" transform="rotate(-0 500.813559 285.219906)">0.30</text>
     </g>
    </g>
    <g id="xtick_11">
     <g id="line2d_38">
      <g>
       <use href="#m1504cfccaf" x="551.254237" y="270.621469" style="stroke: #000000; stroke-width: 0.8"/>
      </g>
     </g>
     <g id="text_30">
      <text style="font-size: 10px; font-family: 'DejaVu Sans', 'Liberation Sans', sans-serif; text-anchor: middle" x="551.254237" y="285.219906" transform="rotate(-0 551.254237 285.219906)">0.35</text>
     </g>
    </g>
    <g id="xtick_12">
     <g id="line2d_39">
      <g>
       <use href="#m1504cfccaf" x="601.694915" y="270.621469" style="stroke: #000000; stroke-width: 0.8"/>
      </g>
     </g>
     <g id="text_31">
      <text style="font-size: 10px; font-family: 'DejaVu Sans', 'Liberation Sans', sans-serif; text-anchor: middle" x="601.694915" y="285.219906" transform="rotate(-0 601.694915 285.219906)">0.40</text>
     </g>
    </g>
    <g id="text_32">
     <text style="font-weight: 700; font-size: 10px; font-family: 'DejaVu Sans', 'Liberation Sans', sans-serif; text-anchor: middle" x="475.59322" y="298.898031" transform="rotate(-0 475.59322 298.898031)">FPR</text>
    </g>
   </g>
   <g id="matplotlib.axis_4">
    <g id="ytick_7">
     <g id="line2d_40">
      <g>
       <use href="#m5d545ce8f8" x="349.491525" y="270.621469" style="stroke: #000000; stroke-width: 0.8"/>
      </g>
     </g>
     <g id="text_33">
      <text style="font-size: 10px; font-family: 'DejaVu Sans', 'Liberation Sans', sans-serif; text-anchor: end" x="342.491525" y="274.420688" transform="rotate(-0 342.491525 274.420688)">0.50</text>
     </g>
    </g>
    <g id="ytick_8">
     <g id="line2d_41">
      <g>
       <use href="#m5d545ce8f8" x="349.491525" y="229.717514" style="stroke: #000000; stroke-width: 0.8"/>
      </g>
     </g>
     <g id="text_34">
      <text style="font-size: 10px; font-family: 'DejaVu Sans', 'Liberation Sans', sans-serif; text-anchor: end" x="342.491525" y="233.516733" transform="rotate(-0 342.491525 233.516733)">0.55</text>
     </g>
    </g>
    <g id="ytick_9">
     <g id="line2d_42">
      <g>
       <use href="#m5d545ce8f8" x="349.491525" y="188.813559" style="stroke: #000000; stroke-width: 0.8"/>
      </g>
     </g>
     <g id="text_35">
      <text style="font-size: 10px; font-family: 'DejaVu Sans', 'Liberation Sans', sans-serif; text-anchor: end" x="342.491525" y="192.612778" transform="rotate(-0 342.491525 192.612778)">0.60</text>
     </g>
    </g>
    <g id="ytick_10">
     <g id="line2d_43">
      <g>
       <use href="#m5d545ce8f8" x="349.491525" y="147.909605" style="stroke: #000000; stroke-width: 0.8"/>
      </g>
     </g>
     <g id="text_36">
      <text style="font-size: 10px; font-family: 'DejaVu Sans', 'Liberation Sans', sans-serif; text-anchor: end" x="342.491525" y="151.708823" transform="rotate(-0 342.491525 151.708823)">0.65</text>
     </g>
    </g>
    <g id="ytick_11">
     <g id="line2d_44">
      <g>
       <use href="#m5d545ce8f8" x="349.491525" y="107.00565" style="stroke: #000000; stroke-width: 0.8"/>
      </g>
     </g>
     <g id="text_37">
      <text style="font-size: 10px; font-family: 'DejaVu Sans', 'Liberation Sans', sans-serif; text-anchor: end" x="342.491525" y="110.804868" transform="rotate(-0 342.491525 110.804868)">0.70</text>
     </g>
    </g>
    <g id="ytick_12">
     <g id="line2d_45">
      <g>
       <use href="#m5d545ce8f8" x="349.491525" y="66.101695" style="stroke: #000000; stroke-width: 0.8"/>
      </g>
     </g>
     <g id="text_38">
      <text style="font-size: 10px; font-family: 'DejaVu Sans', 'Liberation Sans', sans-serif; text-anchor: end" x="342.491525" y="69.900914" transform="rotate(-0 342.491525 69.900914)">0.75</text>
     </g>
    </g>
    <g id="ytick_13">
     <g id="line2d_46">
      <g>
       <use href="#m5d545ce8f8" x="349.491525" y="25.19774" style="stroke: #000000; stroke-width: 0.8"/>
      </g>
     </g>
     <g id="text_39">
      <text style="font-size: 10px; font-family: 'DejaVu Sans', 'Liberation Sans', sans-serif; text-anchor: end" x="342.491525" y="28.996959" transform="rotate(-0 342.491525 28.996959)">0.80</text>
     </g>
    </g>
    <g id="text_40">
     <text style="font-weight: 700; font-size: 10px; font-family: 'DejaVu Sans', 'Liberation Sans', sans-serif; text-anchor: middle" x="314.146213" y="147.909605" transform="rotate(-90 314.146213 147.909605)">TPR</text>
    </g>
   </g>
   <g id="line2d_47">
    <path d="M 198.16 605.51 L 198.16 394.35 L 204.47 394.35 L 204.47 363.67 L 210.77 363.67 L 210.77 348.33 L 217.08 348.33 L 217.08 333 L 223.38 333 L 223.38 322.77 L 229.69 322.77 L 229.69 307.43 L 236 307.43 L 236 302.32 L 242.30 302.32 L 242.30 292.09 L 248.61 292.09 L 248.61 286.98 L 254.91 286.98 L 254.91 271.64 L 261.22 271.64 L 261.22 261.41 L 267.52 261.41 L 267.52 256.30 L 273.83 256.30 L 273.83 246.07 L 280.13 246.07 L 280.13 235.85 L 286.44 235.85 L 286.44 225.62 L 292.74 225.62 L 292.74 220.51 L 299.05 220.51 L 299.05 210.28 L 305.35 210.28 L 305.35 200.06 L 311.66 200.06 L 311.66 194.94 L 317.96 194.94 L 317.96 189.83 L 324.27 189.83 L 324.27 184.72 L 330.57 184.72 L 330.57 169.38 L 336.88 169.38 L 336.88 164.27 L 343.18 164.27 L 343.18 159.15 L 350.80 159.15 L 350.80 146.02 L 364.11 146.02 L 364.11 141.52 L 370.27 141.52 L 370.27 135.80 L 376.93 135.80 L 376.93 120.09 L 383.58 120.09 L 383.58 115.35 L 389.33 115.35 L 389.33 99.56 L 396.30 99.56 L 396.30 84.91 L 408.91 84.91 L 408.91 80.00 L 421.62 80.00 L 421.62 74.85 L 427.87 74.85 L 427.87 69.12 L 440.58 69.12 L 440.58 58.90 L 459.95 58.90 L 459.95 54.15 L 466.31 54.15 L 466.31 49.41 L 491.63 49.41 L 491.63 44.66 L 504.34 44.66 L 504.34 38.28 L 511.40 38.28 L 511.40 33.54 L 516.95 33.54 L 516.95 20.08 L 523.25 20.08 L 523.25 14.97 L 529.56 14.97 L 529.56 9.85 L 535.86 9.85 L 535.86 4.74 L 542.17 4.74 L 542.17 -0.36 L 554.78 -0.36 L 554.78 -1 L 554.78 -1" clip-path="url(#p07b802c079)" style="fill: none; stroke: #1f77b4; stroke-width: 1.5; stroke-linecap: square"/>
   </g>
   <g id="line2d_48">
    <path d="M 198.16 605.51 L 198.16 540.58 L 204.47 540.58 L 204.47 356.51 L 210.77 356.51 L 210.77 336.06 L 217.08 336.06 L 217.08 325.84 L 223.38 325.84 L 223.38 310.50 L 229.69 310.50 L 229.69 300.27 L 236 300.27 L 236 269.59 L 242.30 269.59 L 242.30 254.25 L 248.61 254.25 L 248.61 238.92 L 254.91 238.92 L 254.91 223.58 L 261.22 223.58 L 261.22 208.24 L 267.52 208.24 L 267.52 203.12 L 273.83 203.12 L 273.83 198.01 L 280.13 198.01 L 280.13 172.45 L 299.05 172.45 L 299.05 167.33 L 305.35 167.33 L 305.35 162.22 L 311.66 162.22 L 311.66 152 L 317.96 152 L 317.96 141.77 L 330.57 141.77 L 330.57 136.66 L 349.18 136.66 L 349.18 130.56 L 383.58 130.56 L 383.58 127.21 L 396.30 127.21 L 396.30 125.49 L 402.55 125.49 L 402.55 105.20 L 408.91 105.20 L 408.91 99.56 L 421.62 99.56 L 421.62 95.06 L 427.87 95.06 L 427.87 89.82 L 433.82 89.82 L 433.82 85.08 L 446.94 85.08 L 446.94 75.50 L 453.70 75.50 L 453.70 58.90 L 466.31 58.90 L 466.31 44.66 L 472.66 44.66 L 472.66 39.10 L 485.37 39.10 L 485.37 25.19 L 491.68 25.19 L 491.68 20.08 L 497.98 20.08 L 497.98 9.85 L 516.90 9.85 L 516.90 -0.36 L 529.51 -0.36 L 529.51 -1" clip-path="url(#p07b802c079)" style="fill: none; stroke: #ff7f0e; stroke-width: 1.5; stroke-linecap: square"/>
   </g>
   <g id="line2d_49">
    <path d="M 198.16 605.51 L 198.16 434.23 L 204.47 434.23 L 204.47 429.12 L 210.77 429.12 L 210.77 418.89 L 217.08 418.89 L 217.08 408.67 L 223.38 408.67 L 223.38 403.55 L 229.69 403.55 L 229.69 377.99 L 236 377.99 L 236 362.65 L 242.30 362.65 L 242.30 357.54 L 248.61 357.54 L 248.61 347.31 L 254.91 347.31 L 254.91 342.20 L 261.22 342.20 L 261.22 331.97 L 267.52 331.97 L 267.52 326.86 L 273.83 326.86 L 273.83 311.52 L 280.13 311.52 L 280.13 296.18 L 286.44 296.18 L 286.44 280.84 L 292.74 280.84 L 292.74 265.50 L 311.66 265.50 L 311.66 255.28 L 317.96 255.28 L 317.96 250.16 L 324.27 250.16 L 324.27 234.83 L 330.57 234.83 L 330.57 214.37 L 336.88 214.37 L 336.88 204.15 L 343.18 204.15 L 343.18 199.03 L 349.18 199.03 L 349.18 187.99 L 357.56 187.99 L 357.56 182.43 L 370.57 182.43 L 370.57 177.68 L 383.18 177.68 L 383.18 166.64 L 401.44 166.64 L 401.44 156.49 L 409.01 156.49 L 409.01 151.59 L 414.86 151.59 L 414.86 141.28 L 426.76 141.28 L 426.76 135.72 L 433.82 135.72 L 433.82 130.97 L 446.53 130.97 L 446.53 125.41 L 466.31 125.41 L 466.31 120.66 L 472.66 120.66 L 472.66 109.62 L 479.02 109.62 L 479.02 80.33 L 485.37 80.33 L 485.37 75.50 L 504.34 75.50 L 504.34 70.02 L 516.95 70.02 L 516.95 54.15 L 536.82 54.15 L 536.82 49.41 L 587.47 49.41 L 587.47 28.79 L 593.82 28.79 L 593.82 20.08 L 606.43 20.08 L 606.43 14.97 L 619.04 14.97 L 619.04 9.85 L 622.46 9.85 L 622.46 9.85" clip-path="url(#p07b802c079)" style="fill: none; stroke: #2ca02c; stroke-width: 1.5; stroke-linecap: square"/>
   </g>
   <g id="line2d_50">
    <path d="M 198.16 605.51 L 198.16 418.89 L 204.47 418.89 L 204.47 383.10 L 210.77 383.10 L 210.77 367.76 L 217.08 367.76 L 217.08 347.31 L 223.38 347.31 L 223.38 331.97 L 229.69 331.97 L 229.69 326.86 L 236 326.86 L 236 311.52 L 242.30 311.52 L 242.30 306.41 L 248.61 306.41 L 248.61 291.07 L 254.91 291.07 L 254.91 285.96 L 261.22 285.96 L 261.22 280.84 L 267.52 280.84 L 267.52 270.62 L 273.83 270.62 L 273.83 260.39 L 280.13 260.39 L 280.13 255.28 L 286.44 255.28 L 286.44 250.16 L 292.74 250.16 L 292.74 239.94 L 299.05 239.94 L 299.05 234.83 L 305.35 234.83 L 305.35 224.60 L 311.66 224.60 L 311.66 214.37 L 317.96 214.37 L 317.96 204.15 L 330.57 204.15 L 330.57 193.92 L 336.88 193.92 L 336.88 183.70 L 343.18 183.70 L 343.18 178.58 L 351.81 178.58 L 351.81 161.48 L 357.46 161.48 L 357.46 151.01 L 376.93 151.01 L 376.93 135.80 L 383.58 135.80 L 383.58 130.56 L 389.94 130.56 L 389.94 124.18 L 396.30 124.18 L 396.30 110.27 L 421.01 110.27 L 421.01 105.20 L 427.87 105.20 L 427.87 99.56 L 440.58 99.56 L 440.58 94.57 L 453.70 94.57 L 453.70 75.50 L 459.95 75.50 L 459.95 70.02 L 466.31 70.02 L 466.31 64.46 L 472.66 64.46 L 472.66 43.84 L 485.37 43.84 L 485.37 39.10 L 504.34 39.10 L 504.34 20.08 L 510.64 20.08 L 510.64 14.97 L 516.95 14.97 L 516.95 9.85 L 523.25 9.85 L 523.25 -0.36 L 529.56 -0.36 L 529.56 -1 L 529.56 -1" clip-path="url(#p07b802c079)" style="fill: none; stroke: #d62728; stroke-width: 1.5; stroke-linecap: square"/>
   </g>
   <g id="line2d_51">
    <path d="M 198.16 605.51 L 198.16 402.53 L 204.47 402.53 L 204.47 376.97 L 210.77 376.97 L 210.77 356.51 L 217.08 356.51 L 217.08 341.18 L 223.38 341.18 L 223.38 330.95 L 229.69 330.95 L 229.69 325.84 L 236 325.84 L 236 315.61 L 242.30 315.61 L 242.30 310.50 L 248.61 310.50 L 248.61 295.16 L 254.91 295.16 L 254.91 284.93 L 261.22 284.93 L 261.22 274.71 L 267.52 274.71 L 267.52 264.48 L 273.83 264.48 L 273.83 259.37 L 280.13 259.37 L 280.13 254.25 L 286.44 254.25 L 286.44 244.03 L 292.74 244.03 L 292.74 228.69 L 299.05 228.69 L 299.05 223.58 L 305.35 223.58 L 305.35 218.46 L 311.66 218.46 L 311.66 213.35 L 317.96 213.35 L 317.96 203.12 L 324.27 203.12 L 324.27 198.01 L 330.57 198.01 L 330.57 192.90 L 336.88 192.90 L 336.88 182.67 L 343.18 182.67 L 343.18 177.56 L 350.80 177.56 L 350.80 156.74 L 364.11 156.74 L 364.11 151.42 L 389.23 151.42 L 389.23 146.27 L 402.55 146.27 L 402.55 125.49 L 408.91 125.49 L 408.91 115.35 L 421.62 115.35 L 421.62 99.56 L 429.18 99.56 L 429.18 90.07 L 446.94 90.07 L 446.94 80.33 L 485.37 80.33 L 485.37 75.50 L 491.63 75.50 L 491.63 64.46 L 497.98 64.46 L 497.98 54.97 L 511.40 54.97 L 511.40 49.41 L 518.56 49.41 L 518.56 43.84 L 523.31 43.84 L 523.31 20.08 L 535.92 20.08 L 535.92 9.85 L 567.44 9.85 L 567.44 4.74 L 573.75 4.74 L 573.75 -1 L 573.75 -1" clip-path="url(#p07b802c079)" style="fill: none; stroke: #9467bd; stroke-width: 1.5; stroke-linecap: square"/>
   </g>
   <g id="line2d_52">
    <path d="M 198.16 605.51 L 198.16 400.49 L 204.47 400.49 L 204.47 369.81 L 210.77 369.81 L 210.77 354.47 L 217.08 354.47 L 217.08 339.13 L 223.38 339.13 L 223.38 334.02 L 229.69 334.02 L 229.69 323.79 L 236 323.79 L 236 318.68 L 242.30 318.68 L 242.30 313.57 L 248.61 313.57 L 248.61 303.34 L 254.91 303.34 L 254.91 298.23 L 261.22 298.23 L 261.22 288.00 L 267.52 288.00 L 267.52 277.77 L 273.83 277.77 L 273.83 272.66 L 280.13 272.66 L 280.13 262.44 L 286.44 262.44 L 286.44 257.32 L 292.74 257.32 L 292.74 252.21 L 299.05 252.21 L 299.05 241.98 L 305.35 241.98 L 305.35 231.76 L 311.66 231.76 L 311.66 221.53 L 317.96 221.53 L 317.96 216.42 L 324.27 216.42 L 324.27 211.31 L 336.88 211.31 L 336.88 206.19 L 343.18 206.19 L 343.18 195.97 L 349.18 195.97 L 349.18 193.55 L 351.50 193.55 L 351.50 187.99 L 357.56 187.99 L 357.56 182.43 L 365.02 182.43 L 365.02 177.68 L 370.57 177.68 L 370.57 172.12 L 376.93 172.12 L 376.93 161.48 L 389.23 161.48 L 389.23 156.74 L 395.49 156.74 L 395.49 151.01 L 396.60 151.01 L 396.60 146.02 L 408.91 146.02 L 408.91 115.35 L 415.26 115.35 L 415.26 109.70 L 421.62 109.70 L 421.62 105.20 L 427.87 105.20 L 427.87 89.41 L 434.23 89.41 L 434.23 84.91 L 446.94 84.91 L 446.94 80.33 L 472.66 80.33 L 472.66 58.90 L 479.02 58.90 L 479.02 54.15 L 491.63 54.15 L 491.63 49.41 L 504.34 49.41 L 504.34 43.84 L 536.82 43.84 L 536.82 39.10 L 543.08 39.10 L 543.08 34.36 L 549.43 34.36 L 549.43 28.79 L 552.56 28.79 L 552.56 25.19 L 565.17 25.19 L 565.17 20.08 L 571.48 20.08 L 571.48 9.85 L 596.70 9.85 L 596.70 -0.36 L 609.31 -0.36 L 609.31 -1 L 609.31 -1" clip-path="url(#p07b802c079)" style="fill: none; stroke: #8c564b; stroke-width: 1.5; stroke-linecap: square"/>
   </g>
   <g id="line2d_53">
    <path d="M 198.16 605.51 L 198.16 510.93 L 204.47 510.93 L 204.47 377.99 L 210.77 377.99 L 210.77 342.20 L 217.08 342.20 L 217.08 326.86 L 223.38 326.86 L 223.38 321.75 L 229.69 321.75 L 229.69 306.41 L 236 306.41 L 236 291.07 L 242.30 291.07 L 242.30 285.96 L 248.61 285.96 L 248.61 275.73 L 254.91 275.73 L 254.91 265.50 L 261.22 265.50 L 261.22 260.39 L 267.52 260.39 L 267.52 255.28 L 273.83 255.28 L 273.83 245.05 L 280.13 245.05 L 280.13 239.94 L 286.44 239.94 L 286.44 234.83 L 292.74 234.83 L 292.74 219.49 L 299.05 219.49 L 299.05 214.37 L 305.35 214.37 L 305.35 204.15 L 311.66 204.15 L 311.66 193.92 L 324.27 193.92 L 324.27 178.58 L 330.57 178.58 L 330.57 173.47 L 336.88 173.47 L 336.88 163.24 L 343.18 163.24 L 343.18 158.13 L 350.80 158.13 L 350.80 146.27 L 357.46 146.27 L 357.46 141.03 L 368.35 141.03 L 368.35 135.80 L 389.23 135.80 L 389.23 130.56 L 396.30 130.56 L 396.30 120.42 L 402.55 120.42 L 402.55 115.35 L 408.50 115.35 L 408.50 105.61 L 422.02 105.61 L 422.02 100.13 L 434.23 100.13 L 434.23 70.02 L 447.34 70.02 L 447.34 64.46 L 453.70 64.46 L 453.70 54.97 L 491.63 54.97 L 491.63 49.41 L 504.34 49.41 L 504.34 39.10 L 523.31 39.10 L 523.31 20.08 L 535.92 20.08 L 535.92 14.97 L 548.53 14.97 L 548.53 4.74 L 573.75 4.74 L 573.75 -0.36 L 580.05 -0.36 L 580.05 -1 L 580.05 -1" clip-path="url(#p07b802c079)" style="fill: none; stroke: #e377c2; stroke-width: 1.5; stroke-linecap: square"/>
   </g>
   <g id="line2d_54">
    <path d="M 198.16 605.51 L 198.16 386.17 L 204.47 386.17 L 204.47 345.27 L 210.77 345.27 L 210.77 329.93 L 217.08 329.93 L 217.08 324.81 L 223.38 324.81 L 223.38 304.36 L 229.69 304.36 L 229.69 294.14 L 236 294.14 L 236 289.02 L 242.30 289.02 L 242.30 278.80 L 248.61 278.80 L 248.61 273.68 L 254.91 273.68 L 254.91 263.46 L 261.22 263.46 L 261.22 258.35 L 267.52 258.35 L 267.52 243.01 L 273.83 243.01 L 273.83 237.89 L 280.13 237.89 L 280.13 232.78 L 286.44 232.78 L 286.44 217.44 L 299.05 217.44 L 299.05 207.22 L 305.35 207.22 L 305.35 196.99 L 311.66 196.99 L 311.66 191.88 L 317.96 191.88 L 317.96 186.76 L 324.27 186.76 L 324.27 171.42 L 330.57 171.42 L 330.57 166.31 L 336.88 166.31 L 336.88 150.97 L 343.18 150.97 L 343.18 145.86 L 351.81 145.86 L 351.81 135.80 L 357.46 135.80 L 357.46 130.56 L 365.02 130.56 L 365.02 120.09 L 370.57 120.09 L 370.57 110.27 L 383.58 110.27 L 383.58 105.20 L 389.33 105.20 L 389.33 86.22 L 396.30 86.22 L 396.30 74.85 L 402.55 74.85 L 402.55 64.05 L 422.02 64.05 L 422.02 58.90 L 427.57 58.90 L 427.57 54.15 L 447.34 54.15 L 447.34 49.41 L 472.66 49.41 L 472.66 28.79 L 497.98 28.79 L 497.98 25.19 L 504.29 25.19 L 504.29 14.97 L 510.59 14.97 L 510.59 9.85 L 516.90 9.85 L 516.90 4.74 L 523.20 4.74 L 523.20 -0.36 L 542.12 -0.36 L 542.12 -1 L 542.12 -1" clip-path="url(#p07b802c079)" style="fill: none; stroke: #7f7f7f; stroke-width: 1.5; stroke-linecap: square"/>
   </g>
   <g id="line2d_55">
    <path d="M 198.16 605.51 L 198.16 369.81 L 204.47 369.81 L 204.47 334.02 L 210.77 334.02 L 210.77 323.79 L 217.08 323.79 L 217.08 308.45 L 223.38 308.45 L 223.38 303.34 L 229.69 303.34 L 229.69 288.00 L 236 288.00 L 236 282.89 L 242.30 282.89 L 242.30 277.77 L 248.61 277.77 L 248.61 267.55 L 254.91 267.55 L 254.91 257.32 L 261.22 257.32 L 261.22 247.10 L 267.52 247.10 L 267.52 241.98 L 280.13 241.98 L 280.13 231.76 L 286.44 231.76 L 286.44 216.42 L 292.74 216.42 L 292.74 211.31 L 299.05 211.31 L 299.05 201.08 L 305.35 201.08 L 305.35 195.97 L 311.66 195.97 L 311.66 185.74 L 324.27 185.74 L 324.27 175.51 L 330.57 175.51 L 330.57 165.29 L 336.88 165.29 L 336.88 155.06 L 350.80 155.06 L 350.80 141.03 L 364.11 141.03 L 364.11 115.84 L 369.66 115.84 L 369.66 99.31 L 389.33 99.31 L 389.33 95.06 L 402.55 95.06 L 402.55 84.91 L 415.26 84.91 L 415.26 64.05 L 427.87 64.05 L 427.87 48.59 L 433.82 48.59 L 433.82 39.10 L 466.31 39.10 L 466.31 25.19 L 472.61 25.19 L 472.61 20.08 L 485.22 20.08 L 485.22 14.97 L 491.53 14.97 L 491.53 9.85 L 504.14 9.85 L 504.14 4.74 L 510.44 4.74 L 510.44 -1" clip-path="url(#p07b802c079)" style="fill: none; stroke: #bcbd22; stroke-width: 1.5; stroke-linecap: square"/>
   </g>
   <g id="line2d_56">
    <path d="M 198.16 605.51 L 198.16 385.15 L 204.47 385.15 L 204.47 380.03 L 210.77 380.03 L 210.77 369.81 L 217.08 369.81 L 217.08 308.45 L 223.38 308.45 L 223.38 267.55 L 248.61 267.55 L 248.61 262.44 L 254.91 262.44 L 254.91 257.32 L 267.52 257.32 L 267.52 241.98 L 273.83 241.98 L 273.83 236.87 L 280.13 236.87 L 280.13 231.76 L 286.44 231.76 L 286.44 221.53 L 292.74 221.53 L 292.74 211.31 L 305.35 211.31 L 305.35 206.19 L 311.66 206.19 L 311.66 201.08 L 317.96 201.08 L 317.96 190.85 L 324.27 190.85 L 324.27 175.51 L 330.57 175.51 L 330.57 165.29 L 343.18 165.29 L 343.18 155.06 L 350.80 155.06 L 350.80 130.56 L 357.46 130.56 L 357.46 115.84 L 370.27 115.84 L 370.27 110.27 L 376.72 110.27 L 376.72 99.31 L 383.58 99.31 L 383.58 84.91 L 389.33 84.91 L 389.33 74.85 L 396.30 74.85 L 396.30 64.05 L 414.86 64.05 L 414.86 58.90 L 422.02 58.90 L 422.02 54.15 L 427.57 54.15 L 427.57 43.84 L 440.28 43.84 L 440.28 39.10 L 472.66 39.10 L 472.66 28.79 L 491.63 28.79 L 491.63 20.08 L 497.93 20.08 L 497.93 14.97 L 504.24 14.97 L 504.24 4.74 L 516.85 4.74 L 516.85 -0.36 L 529.46 -0.36 L 529.46 -1" clip-path="url(#p07b802c079)" style="fill: none; stroke: #17becf; stroke-width: 1.5; stroke-linecap: square"/>
   </g>
   <g id="line2d_57">
    <path d="M 289.59 605.51 L 622.46 335.58" clip-path="url(#p07b802c079)" style="fill: none; stroke-dasharray: 5.55,2.4; stroke-dashoffset: 0; stroke: #000000; stroke-width: 1.5"/>
   </g>
   <g id="patch_9">
    <path d="M 349.49 270.62 L 349.49 25.19" style="fill: none; stroke: #000000; stroke-width: 0.8; stroke-linejoin: miter; stroke-linecap: square"/>
   </g>
   <g id="patch_10">
    <path d="M 601.69 270.62 L 601.69 25.19" style="fill: none; stroke: #000000; stroke-width: 0.8; stroke-linejoin: miter; stroke-linecap: square"/>
   </g>
   <g id="patch_11">
    <path d="M 349.49 270.62 L 601.69 270.62" style="fill: none; stroke: #000000; stroke-width: 0.8; stroke-linejoin: miter; stroke-linecap: square"/>
   </g>
   <g id="patch_12">
    <path d="M 349.49 25.19 L 601.69 25.19" style="fill: none; stroke: #000000; stroke-width: 0.8; stroke-linejoin: miter; stroke-linecap: square"/>
   </g>
   <g id="text_41">
    <text style="font-weight: 700; font-size: 11px; font-family: 'DejaVu Sans', 'Liberation Sans', sans-serif; text-anchor: middle" x="475.59322" y="19.19774" transform="rotate(-0 475.59322 19.19774)">(B) ROC curves</text>
   </g>
   <g id="legend_2">
    <g id="patch_13">
     <path d="M 400.82 266.62 L 596.09 266.62 Q 597.69 266.62 597.69 265.02 L 597.69 148.20 Q 597.69 146.60 596.09 146.60 L 400.82 146.60 Q 399.22 146.60 399.22 148.20 L 399.22 265.02 Q 399.22 266.62 400.82 266.62 z" style="fill: #ffffff; opacity: 0.8; stroke: #cccccc; stroke-linejoin: miter"/>
    </g>
    <g id="line2d_58">
     <path d="M 402.42 153.08 L 410.42 153.08 L 418.42 153.08" style="fill: none; stroke: #1f77b4; stroke-width: 1.5; stroke-linecap: square"/>
    </g>
    <g id="text_42">
     <text style="font-weight: 700; font-size: 8px; font-family: 'DejaVu Sans', 'Liberation Sans', sans-serif; text-anchor: start" x="424.827415" y="155.887719" transform="rotate(-0 424.827415 155.887719)">FEGS (AUC = 0.762)</text>
    </g>
    <g id="line2d_59">
     <path d="M 402.42 164.83 L 410.42 164.83 L 418.42 164.83" style="fill: none; stroke: #ff7f0e; stroke-width: 1.5; stroke-linecap: square"/>
    </g>
    <g id="text_43">
     <text style="font-weight: 700; font-size: 8px; font-family: 'DejaVu Sans', 'Liberation Sans', sans-serif; text-anchor: start" x="424.827415" y="167.630219" transform="rotate(-0 424.827415 167.630219)">Binary (AUC = 0.749)</text>
    </g>
    <g id="line2d_60">
     <path d="M 402.42 176.63 L 410.42 176.63 L 418.42 176.63" style="fill: none; stroke: #2ca02c; stroke-width: 1.5; stroke-linecap: square"/>
    </g>
    <g id="text_44">
     <text style="font-weight: 700; font-size: 8px; font-family: 'DejaVu Sans', 'Liberation Sans', sans-serif; text-anchor: start" x="424.827415" y="179.435219" transform="rotate(-0 424.827415 179.435219)">BERT (AUC = 0.721)</text>
    </g>
    <g id="line2d_61">
     <path d="M 402.42 188.37 L 410.42 188.37 L 418.42 188.37" style="fill: none; stroke: #d62728; stroke-width: 1.5; stroke-linecap: square"/>
    </g>
    <g id="text_45">
     <text style="font-weight: 700; font-size: 8px; font-family: 'DejaVu Sans', 'Liberation Sans', sans-serif; text-anchor: start" x="424.827415" y="191.177719" transform="rotate(-0 424.827415 191.177719)">BLOSUM (AUC = 0.743)</text>
    </g>
    <g id="line2d_62">
     <path d="M 402.42 200.12 L 410.42 200.12 L 418.42 200.12" style="fill: none; stroke: #9467bd; stroke-width: 1.5; stroke-linecap: square"/>
    </g>
    <g id="text_46">
     <text style="font-weight: 700; font-size: 8px; font-family: 'DejaVu Sans', 'Liberation Sans', sans-serif; text-anchor: start" x="424.827415" y="202.920219" transform="rotate(-0 424.827415 202.920219)">AAC (AUC = 0.737)</text>
    </g>
    <g id="line2d_63">
     <path d="M 402.42 211.86 L 410.42 211.86 L 418.42 211.86" style="fill: none; stroke: #8c564b; stroke-width: 1.5; stroke-linecap: square"/>
    </g>
    <g id="text_47">
     <text style="font-weight: 700; font-size: 8px; font-family: 'DejaVu Sans', 'Liberation Sans', sans-serif; text-anchor: start" x="424.827415" y="214.662719" transform="rotate(-0 424.827415 214.662719)">DPC (AUC = 0.740)</text>
    </g>
    <g id="line2d_64">
     <path d="M 402.42 223.60 L 410.42 223.60 L 418.42 223.60" style="fill: none; stroke: #e377c2; stroke-width: 1.5; stroke-linecap: square"/>
    </g>
    <g id="text_48">
     <text style="font-weight: 700; font-size: 8px; font-family: 'DejaVu Sans', 'Liberation Sans', sans-serif; text-anchor: start" x="424.827415" y="226.405219" transform="rotate(-0 424.827415 226.405219)">CKSAAGP (AUC = 0.740)</text>
    </g>
    <g id="line2d_65">
     <path d="M 402.42 235.34 L 410.42 235.34 L 418.42 235.34" style="fill: none; stroke: #7f7f7f; stroke-width: 1.5; stroke-linecap: square"/>
    </g>
    <g id="text_49">
     <text style="font-weight: 700; font-size: 8px; font-family: 'DejaVu Sans', 'Liberation Sans', sans-serif; text-anchor: start" x="424.827415" y="238.147719" transform="rotate(-0 424.827415 238.147719)">FEGS+BLOSUM (AUC = 0.762)</text>
    </g>
    <g id="line2d_66">
     <path d="M 402.42 247.09 L 410.42 247.09 L 418.42 247.09" style="fill: none; stroke: #bcbd22; stroke-width: 1.5; stroke-linecap: square"/>
    </g>
    <g id="text_50">
     <text style="font-weight: 700; font-size: 8px; font-family: 'DejaVu Sans', 'Liberation Sans', sans-serif; text-anchor: start" x="424.827415" y="249.890219" transform="rotate(-0 424.827415 249.890219)">FEGS+Binary (AUC = 0.765)</text>
    </g>
    <g id="line2d_67">
     <path d="M 402.42 258.89 L 410.42 258.89 L 418.42 258.89" style="fill: none; stroke: #17becf; stroke-width: 1.5; stroke-linecap: square"/>
    </g>
    <g id="text_51">
     <text style="font-weight: 700; font-size: 8px; font-family: 'DejaVu Sans', 'Liberation Sans', sans-serif; text-anchor: start" x="424.827415" y="261.695219" transform="rotate(-0 424.827415 261.695219)">FEGS+BLOSUM+Binary (AUC = 0.771)</text>
    </g>
   </g>
  </g>
  <g id="axes_3">
   <g id="patch_14">
    <path d="M 46.66 565.64 L 298.75 565.64 L 298.75 320.33 L 46.66 320.33 z" style="fill: #ffffff"/>
   </g>
   <g id="matplotlib.axis_5">
    <g id="xtick_13">
     <g id="line2d_68">
      <g>
       <use href="#m1504cfccaf" x="58.125321" y="565.649718" style="stroke: #000000; stroke-width: 0.8"/>
      </g>
     </g>
     <g id="text_52">
      <text style="font-size: 10px; font-family: 'DejaVu Sans', 'Liberation Sans', sans-serif; text-anchor: middle" x="58.125321" y="580.248155" transform="rotate(-0 58.125321 580.248155)">0.0</text>
     </g>
    </g>
    <g id="xtick_14">
     <g id="line2d_69">
      <g>
       <use href="#m1504cfccaf" x="103.959938" y="565.649718" style="stroke: #000000; stroke-width: 0.8"/>
      </g>
     </g>
     <g id="text_53">
      <text style="font-size: 10px; font-family: 'DejaVu Sans', 'Liberation Sans', sans-serif; text-anchor: middle" x="103.959938" y="580.248155" transform="rotate(-0 103.959938 580.248155)">0.2</text>
     </g>
    </g>
    <g id="xtick_15">
     <g id="line2d_70">
      <g>
       <use href="#m1504cfccaf" x="149.794556" y="565.649718" style="stroke: #000000; stroke-width: 0.8"/>
      </g>
     </g>
     <g id="text_54">
      <text style="font-size: 10px; font-family: 'DejaVu Sans', 'Liberation Sans', sans-serif; text-anchor: middle" x="149.794556" y="580.248155" transform="rotate(-0 149.794556 580.248155)">0.4</text>
     </g>
    </g>
    <g id="xtick_16">
     <g id="line2d_71">
      <g>
       <use href="#m1504cfccaf" x="195.629173" y="565.649718" style="stroke: #000000; stroke-width: 0.8"/>
      </g>
     </g>
     <g id="text_55">
      <text style="font-size: 10px; font-family: 'DejaVu Sans', 'Liberation Sans', sans-serif; text-anchor: middle" x="195.629173" y="580.248155" transform="rotate(-0 195.629173 580.248155)">0.6</text>
     </g>
    </g>
    <g id="xtick_17">
     <g id="line2d_72">
      <g>
       <use href="#m1504cfccaf" x="241.46379" y="565.649718" style="stroke: #000000; stroke-width: 0.8"/>
      </g>
     </g>
     <g id="text_56">
      <text style="font-size: 10px; font-family: 'DejaVu Sans', 'Liberation Sans', sans-serif; text-anchor: middle" x="241.46379" y="580.248155" transform="rotate(-0 241.46379 580.248155)">0.8</text>
     </g>
    </g>
    <g id="xtick_18">
     <g id="line2d_73">
      <g>
       <use href="#m1504cfccaf" x="287.298408" y="565.649718" style="stroke: #000000; stroke-width: 0.8"/>
      </g>
     </g>
     <g id="text_57">
      <text style="font-size: 10px; font-family: 'DejaVu Sans', 'Liberation Sans', sans-serif; text-anchor: middle" x="287.298408" y="580.248155" transform="rotate(-0 287.298408 580.248155)">1.0</text>
     </g>
    </g>
    <g id="text_58">
     <text style="font-weight: 700; font-size: 10px; font-family: 'DejaVu Sans', 'Liberation Sans', sans-serif; text-anchor: middle" x="172.711864" y="593.92628" transform="rotate(-0 172.711864 593.92628)">Recall</text>
    </g>
   </g>
   <g id="matplotlib.axis_6">
    <g id="ytick_14">
     <g id="line2d_74">
      <g>
       <use href="#m5d545ce8f8" x="46.666667" y="554.49923" style="stroke: #000000; stroke-width: 0.8"/>
      </g>
     </g>
     <g id="text_59">
      <text style="font-size: 10px; font-family: 'DejaVu Sans', 'Liberation Sans', sans-serif; text-anchor: end" x="39.666667" y="558.298448" transform="rotate(-0 39.666667 558.298448)">0.0</text>
     </g>
    </g>
    <g id="ytick_15">
     <g id="line2d_75">
      <g>
       <use href="#m5d545ce8f8" x="46.666667" y="509.897278" style="stroke: #000000; stroke-width: 0.8"/>
      </g>
     </g>
     <g id="text_60">
      <text style="font-size: 10px; font-family: 'DejaVu Sans', 'Liberation Sans', sans-serif; text-anchor: end" x="39.666667" y="513.696497" transform="rotate(-0 39.666667 513.696497)">0.2</text>
     </g>
    </g>
    <g id="ytick_16">
     <g id="line2d_76">
      <g>
       <use href="#m5d545ce8f8" x="46.666667" y="465.295326" style="stroke: #000000; stroke-width: 0.8"/>
      </g>
     </g>
     <g id="text_61">
      <text style="font-size: 10px; font-family: 'DejaVu Sans', 'Liberation Sans', sans-serif; text-anchor: end" x="39.666667" y="469.094545" transform="rotate(-0 39.666667 469.094545)">0.4</text>
     </g>
    </g>
    <g id="ytick_17">
     <g id="line2d_77">
      <g>
       <use href="#m5d545ce8f8" x="46.666667" y="420.693374" style="stroke: #000000; stroke-width: 0.8"/>
      </g>
     </g>
     <g id="text_62">
      <text style="font-size: 10px; font-family: 'DejaVu Sans', 'Liberation Sans', sans-serif; text-anchor: end" x="39.666667" y="424.492593" transform="rotate(-0 39.666667 424.492593)">0.6</text>
     </g>
    </g>
    <g id="ytick_18">
     <g id="line2d_78">
      <g>
       <use href="#m5d545ce8f8" x="46.666667" y="376.091423" style="stroke: #000000; stroke-width: 0.8"/>
      </g>
     </g>
     <g id="text_63">
      <text style="font-size: 10px; font-family: 'DejaVu Sans', 'Liberation Sans', sans-serif; text-anchor: end" x="39.666667" y="379.890641" transform="rotate(-0 39.666667 379.890641)">0.8</text>
     </g>
    </g>
    <g id="ytick_19">
     <g id="line2d_79">
      <g>
       <use href="#m5d545ce8f8" x="46.666667" y="331.489471" style="stroke: #000000; stroke-width: 0.8"/>
      </g>
     </g>
     <g id="text_64">
      <text style="font-size: 10px; font-family: 'DejaVu Sans', 'Liberation Sans', sans-serif; text-anchor: end" x="39.666667" y="335.28869" transform="rotate(-0 39.666667 335.28869)">1.0</text>
     </g>
    </g>
    <g id="text_65">
     <text style="font-weight: 700; font-size: 10px; font-family: 'DejaVu Sans', 'Liberation Sans', sans-serif; text-anchor: middle" x="17.683854" y="442.99435" transform="rotate(-90 17.683854 442.99435)">Precision</text>
    </g>
   </g>
   <g id="line2d_80">
    <path d="M 58.12 331.48 L 174.05 331.48 L 174.05 333.34 L 178.10 333.34 L 178.10 335.19 L 186.19 335.19 L 186.19 337.01 L 188.88 337.01 L 188.88 338.83 L 191.58 338.83 L 191.58 340.62 L 196.97 340.62 L 196.97 342.41 L 201.02 342.41 L 201.02 345.93 L 203.71 345.93 L 203.71 347.66 L 205.06 347.66 L 205.06 349.39 L 209.10 349.39 L 209.10 351.10 L 210.45 351.10 L 210.45 352.79 L 213.15 352.79 L 213.15 356.14 L 214.50 356.14 L 214.50 359.43 L 215.85 359.43 L 215.85 362.67 L 217.26 362.67 L 217.26 365.76 L 218.77 365.76 L 218.77 366.76 L 220.28 366.76 L 220.28 369.80 L 220.79 369.80 L 220.79 371.80 L 221.80 371.80 L 221.80 375.84 L 222.80 375.84 L 222.80 378.36 L 223.81 378.36 L 223.81 379.88 L 225.07 379.88 L 225.07 382.26 L 226.13 382.26 L 226.13 383.87 L 230.37 383.87 L 230.37 385.45 L 231.15 385.45 L 231.15 386.52 L 231.97 386.52 L 231.97 388.04 L 234.08 388.04 L 234.08 389.18 L 235.16 389.18 L 235.16 390.76 L 236.49 390.76 L 236.49 392.37 L 237.79 392.37 L 237.79 392.79 L 239.12 392.79 L 239.12 395.98 L 239.40 395.98 L 239.40 399.15 L 240.45 399.15 L 240.45 404.99 L 241.46 404.99 L 241.46 407.64 L 243.91 407.64 L 243.91 409.76 L 245.77 409.76 L 245.77 412.44 L 247.88 412.44 L 247.88 412.95 L 251.06 412.95 L 251.06 415.60 L 252.92 415.60 L 252.92 416.76 L 254.27 416.76 L 254.27 422.41 L 255.61 422.41 L 255.61 424.60 L 256.96 424.60 L 256.96 429.92 L 258.31 429.92 L 258.31 435.03 L 259.79 435.03 L 259.79 437.28 L 261.14 437.28 L 261.14 439.23 L 262.49 439.23 L 262.49 442.09 L 263.84 442.09 L 263.84 443.02 L 265.18 443.02 L 265.18 443.95 L 266.53 443.95 L 266.53 444.87 L 267.88 444.87 L 267.88 448.48 L 268.96 448.48 L 268.96 449.68 L 270.31 449.68 L 270.31 452.36 L 271.66 452.36 L 271.66 453.25 L 274.35 453.25 L 274.35 455.03 L 275.83 455.03 L 275.83 457.26 L 277.18 457.26 L 277.18 459.05 L 278.53 459.05 L 278.53 460.83 L 281.23 460.83 L 281.23 462.61 L 283.92 462.61 L 283.92 464.40 L 285.00 464.40 L 285.00 468.86 L 286.35 468.86 L 286.35 475.99 L 287.29 475.99 L 287.29 480.90" clip-path="url(#p0747b0f0e4)" style="fill: none; stroke: #1f77b4; stroke-width: 1.5; stroke-linecap: square"/>
   </g>
   <g id="line2d_81">
    <path d="M 58.12 331.48 L 175.40 331.48 L 175.40 333.34 L 180.80 333.34 L 180.80 335.19 L 186.19 335.19 L 186.19 337.01 L 191.58 337.01 L 191.58 338.83 L 196.97 338.83 L 196.97 340.62 L 202.36 340.62 L 202.36 342.41 L 203.71 342.41 L 203.71 344.17 L 210.45 344.17 L 210.45 345.93 L 214.50 345.93 L 214.50 349.39 L 215.85 349.39 L 215.85 352.79 L 221.24 352.79 L 221.24 354.47 L 223.12 354.47 L 223.12 367.17 L 224.27 367.17 L 224.27 369.40 L 225.07 369.40 L 225.07 371.63 L 227.18 371.63 L 227.18 373.86 L 227.73 373.86 L 227.73 376.96 L 228.79 376.96 L 228.79 382.26 L 229.31 382.26 L 229.31 388.64 L 230.37 388.64 L 230.37 392.81 L 232.50 392.81 L 232.50 395.04 L 233.55 395.04 L 233.55 396.49 L 235.68 396.49 L 235.68 397.56 L 236.49 397.56 L 236.49 399.15 L 237.54 399.15 L 237.54 402.33 L 238.34 402.33 L 238.34 404.72 L 249.48 404.72 L 249.48 410.83 L 250.01 410.83 L 250.01 418.64 L 252.92 418.64 L 252.92 419.77 L 254.27 419.77 L 254.27 422.00 L 255.61 422.00 L 255.61 424.20 L 257.50 424.20 L 257.50 425.15 L 258.85 425.15 L 258.85 427.30 L 260.20 427.30 L 260.20 429.41 L 262.08 429.41 L 262.08 430.65 L 263.43 430.65 L 263.43 432.70 L 265.29 432.70 L 265.29 433.75 L 266.64 433.75 L 266.64 435.75 L 267.36 435.75 L 267.36 443.09 L 268.70 443.09 L 268.70 444.01 L 269.42 444.01 L 269.42 444.33 L 272.11 444.33 L 272.11 446.16 L 273.54 446.16 L 273.54 451.46 L 274.89 451.46 L 274.89 455.03 L 276.75 455.03 L 276.75 455.92 L 278.10 455.92 L 278.10 458.60 L 279.96 458.60 L 279.96 515.91 L 285.00 515.91" clip-path="url(#p0747b0f0e4)" style="fill: none; stroke: #ff7f0e; stroke-width: 1.5; stroke-linecap: square"/>
   </g>
   <g id="line2d_82">
    <path d="M 58.12 331.48 L 172.71 331.48 L 172.71 333.34 L 175.40 333.34 L 175.40 335.19 L 176.75 335.19 L 176.75 337.01 L 182.14 337.01 L 182.14 340.62 L 186.19 340.62 L 186.19 342.41 L 195.62 342.41 L 195.62 344.17 L 196.97 344.17 L 196.97 345.93 L 199.67 345.93 L 199.67 356.14 L 201.03 356.14 L 201.03 365.76 L 201.65 365.76 L 201.65 367.28 L 203.42 367.28 L 203.42 368.79 L 206.19 368.79 L 206.19 372.83 L 210.70 372.83 L 210.70 375.60 L 212.97 375.60 L 212.97 382.40 L 218.52 382.40 L 218.52 383.89 L 220.28 383.89 L 220.28 387.95 L 221.54 387.95 L 221.54 389.44 L 223.31 389.44 L 223.31 392.08 L 224.71 392.08 L 224.71 398.52 L 223.38 398.52 L 223.38 402.85 L 226.10 402.85 L 226.10 406.19 L 228.17 406.19 L 228.17 409.98 L 230.46 409.98 L 230.46 413.55 L 233.44 413.55 L 233.44 416.23 L 237.72 416.23 L 237.72 418.64 L 239.26 418.64 L 239.26 419.93 L 241.60 419.93 L 241.60 428.20 L 243.13 428.20 L 243.13 436.72 L 243.38 436.72 L 243.38 440.58 L 245.72 440.58 L 245.72 441.87 L 248.33 441.87 L 248.33 442.99 L 248.27 442.21 L 248.27 443.14 L 249.61 443.14 L 249.61 444.07 L 250.40 444.07 L 250.40 454.14 L 251.54 454.14 L 251.54 458.82 L 252.89 458.82 L 252.89 459.72 L 254.24 459.72 L 254.24 460.61 L 256.93 460.61 L 256.93 461.50 L 257.73 461.50 L 257.73 461.28 L 259.08 461.28 L 259.08 463.06 L 259.79 463.06 L 259.79 466.18 L 266.21 466.18 L 266.21 466.85 L 267.56 466.85 L 267.56 467.74 L 268.91 467.74 L 268.91 470.42 L 270.25 470.42 L 270.25 471.31 L 271.48 471.31 L 271.48 475.99 L 279.04 487.59 L 285.00 487.59" clip-path="url(#p0747b0f0e4)" style="fill: none; stroke: #2ca02c; stroke-width: 1.5; stroke-linecap: square"/>
   </g>
   <g id="line2d_83">
    <path d="M 58.12 331.48 L 172.71 331.48 L 172.71 333.34 L 178.10 333.34 L 178.10 335.19 L 183.49 335.19 L 183.49 337.01 L 191.58 337.01 L 191.58 340.62 L 198.32 340.62 L 198.32 342.41 L 203.71 342.41 L 203.71 344.17 L 206.41 344.17 L 206.41 345.93 L 207.76 345.93 L 207.76 347.66 L 209.10 347.66 L 209.10 349.39 L 211.80 349.39 L 211.80 351.10 L 213.15 351.10 L 213.15 352.79 L 215.85 352.79 L 215.85 356.14 L 217.19 356.14 L 217.19 357.79 L 218.54 357.79 L 218.54 362.67 L 219.89 362.67 L 219.89 364.27 L 221.29 364.27 L 221.29 366.27 L 222.30 366.27 L 222.30 367.79 L 222.80 367.79 L 222.80 371.31 L 225.07 371.31 L 225.07 379.61 L 226.13 379.61 L 226.13 380.68 L 227.73 380.68 L 227.73 388.64 L 228.26 388.64 L 228.26 393.84 L 229.04 393.84 L 229.04 394.91 L 230.37 394.91 L 230.37 396.49 L 231.97 396.49 L 231.97 397.29 L 233.03 397.29 L 233.03 398.88 L 234.08 398.88 L 234.08 400.48 L 235.41 400.48 L 235.41 403.41 L 236.74 403.41 L 236.74 404.45 L 238.34 404.45 L 238.34 406.06 L 239.40 406.06 L 239.40 409.25 L 241.25 409.25 L 241.25 410.30 L 242.31 410.30 L 242.31 411.90 L 243.38 411.90 L 243.38 414.02 L 243.91 414.02 L 243.91 416.14 L 244.71 416.14 L 244.71 417.72 L 245.77 417.72 L 245.77 419.33 L 246.82 419.33 L 246.82 424.32 L 247.78 424.32 L 247.78 430.01 L 249.32 430.01 L 249.32 431.04 L 250.88 431.04 L 250.88 433.11 L 251.91 433.11 L 251.91 436.72 L 254.27 436.72 L 254.27 439.64 L 255.61 439.64 L 255.61 440.60 L 256.96 440.60 L 256.96 441.55 L 258.31 441.55 L 258.31 444.35 L 261.05 444.35 L 261.05 445.44 L 262.40 445.44 L 262.40 447.25 L 264.15 447.25 L 264.15 454.14 L 265.50 454.14 L 265.50 460.38 L 267.36 460.38 L 267.36 471.53 L 270.56 471.53 L 270.56 473.76 L 271.91 473.76 L 271.91 475.55 L 273.26 475.55 L 273.26 478.22 L 274.69 478.22 L 274.69 478.22 L 277.90 488.71 L 279.25 488.71 L 279.25 493.17 L 280.42 493.17 L 280.42 496.51 L 285.00 496.51" clip-path="url(#p0747b0f0e4)" style="fill: none; stroke: #d62728; stroke-width: 1.5; stroke-linecap: square"/>
   </g>
   <g id="line2d_84">
    <path d="M 58.12 331.48 L 175.40 331.48 L 175.40 333.34 L 178.10 333.34 L 178.10 335.19 L 184.84 335.19 L 184.84 337.01 L 186.19 337.01 L 186.19 338.83 L 188.88 338.83 L 188.88 340.62 L 195.62 340.62 L 195.62 342.41 L 196.97 342.41 L 196.97 344.17 L 198.32 344.17 L 198.32 345.93 L 199.67 345.93 L 199.67 347.66 L 201.02 347.66 L 201.02 349.39 L 203.71 349.39 L 203.71 351.10 L 205.06 351.10 L 205.06 354.47 L 206.41 354.47 L 206.41 356.14 L 207.76 356.14 L 207.76 357.79 L 209.10 357.79 L 209.10 362.67 L 210.45 362.67 L 210.45 364.27 L 211.21 364.27 L 211.21 365.76 L 213.22 365.76 L 213.22 367.28 L 216.25 367.28 L 216.25 372.83 L 221.80 372.83 L 221.80 374.08 L 222.30 374.08 L 222.30 380.55 L 223.31 380.55 L 223.31 386.43 L 223.81 386.43 L 223.81 389.44 L 225.07 389.44 L 225.07 390.96 L 229.84 390.96 L 229.84 393.84 L 231.44 393.84 L 231.44 396.49 L 232.22 396.49 L 232.22 398.61 L 232.75 398.61 L 232.75 400.48 L 234.08 400.48 L 234.08 403.96 L 235.04 403.96 L 235.04 407.31 L 236.74 407.31 L 236.74 410.30 L 239.92 410.30 L 239.92 410.83 L 240.98 410.83 L 240.98 411.90 L 242.31 411.90 L 242.31 412.95 L 243.11 412.95 L 243.11 415.07 L 243.64 415.07 L 243.64 415.87 L 246.82 415.87 L 246.82 416.67 L 250.53 416.67 L 250.53 418.26 L 252.92 418.26 L 252.92 420.52 L 254.27 420.52 L 254.27 421.64 L 255.61 421.64 L 255.61 424.93 L 256.96 424.93 L 256.96 428.14 L 258.88 428.14 L 258.88 433.87 L 260.22 433.87 L 260.22 435.88 L 261.57 435.88 L 261.57 436.87 L 262.92 436.87 L 262.92 440.74 L 264.27 440.74 L 264.27 442.63 L 265.62 442.63 L 265.62 445.40 L 267.36 445.40 L 267.36 448.34 L 268.70 448.34 L 268.70 450.13 L 270.56 450.13 L 270.56 463.95 L 271.25 463.95 L 271.25 466.18 L 273.95 466.18 L 273.95 467.97 L 274.69 467.97 L 274.69 469.53 L 276.04 469.53 L 276.04 470.42 L 277.39 470.42 L 277.39 473.10 L 280.08 473.10 L 280.08 474.88 L 281.43 474.88 L 281.43 477.56 L 283.17 477.56 L 283.17 480.45 L 285.00 480.45 L 285.00 483.13 L 287.29 483.13" clip-path="url(#p0747b0f0e4)" style="fill: none; stroke: #9467bd; stroke-width: 1.5; stroke-linecap: square"/>
   </g>
   <g id="line2d_85">
    <path d="M 58.12 331.48 L 172.71 331.48 L 172.71 333.34 L 179.45 333.34 L 179.45 335.19 L 183.49 335.19 L 183.49 338.83 L 188.88 338.83 L 188.88 340.62 L 192.93 340.62 L 192.93 342.41 L 196.97 342.41 L 196.97 344.17 L 199.67 344.17 L 199.67 347.66 L 202.36 347.66 L 202.36 351.10 L 203.71 351.10 L 203.71 352.79 L 205.06 352.79 L 205.06 356.14 L 207.76 356.14 L 207.76 359.43 L 209.10 359.43 L 209.10 362.67 L 210.96 362.67 L 210.96 367.03 L 213.22 367.03 L 213.22 368.55 L 215.49 368.55 L 215.49 374.08 L 216.75 374.08 L 216.75 376.84 L 218.77 376.84 L 218.77 378.87 L 220.28 378.87 L 220.28 380.37 L 223.31 380.37 L 223.31 381.39 L 225.07 381.39 L 225.07 382.78 L 226.65 382.78 L 226.65 387.59 L 227.73 387.59 L 227.73 389.71 L 229.06 389.71 L 229.06 390.76 L 230.37 390.76 L 230.37 391.72 L 233.03 391.72 L 233.03 395.96 L 234.08 395.96 L 234.08 397.03 L 234.63 397.03 L 234.63 401.80 L 235.16 401.80 L 235.16 405.08 L 235.96 405.08 L 235.96 409.54 L 237.01 409.54 L 237.01 412.95 L 237.79 412.95 L 237.79 415.60 L 238.59 415.60 L 238.59 416.67 L 239.40 416.67 L 239.40 417.72 L 240.54 417.72 L 240.54 421.22 L 244.69 421.22 L 244.69 422.76 L 245.72 422.76 L 245.72 429.50 L 249.32 429.50 L 249.32 431.04 L 251.91 431.04 L 251.91 432.60 L 252.92 432.60 L 252.92 433.61 L 254.27 433.61 L 254.27 434.62 L 255.61 434.62 L 255.61 435.62 L 256.96 435.62 L 256.96 438.57 L 259.79 438.57 L 259.79 441.71 L 261.14 441.71 L 261.14 443.58 L 262.49 443.58 L 262.49 446.33 L 263.84 446.33 L 263.84 447.23 L 265.18 447.23 L 265.18 448.12 L 266.53 448.12 L 266.53 450.80 L 267.36 450.80 L 267.36 452.36 L 271.40 452.36 L 271.40 453.25 L 272.63 453.25 L 272.63 454.81 L 273.97 454.81 L 273.97 456.59 L 279.96 456.59 L 279.96 457.04 L 281.31 457.04 L 281.31 458.82 L 284.31 458.82 L 284.31 464.62 L 285.23 464.62 L 285.23 466.41 L 287.29 477.11" clip-path="url(#p0747b0f0e4)" style="fill: none; stroke: #8c564b; stroke-width: 1.5; stroke-linecap: square"/>
   </g>
   <g id="line2d_86">
    <path d="M 58.12 331.48 L 176.75 331.48 L 176.75 333.34 L 178.10 333.34 L 178.10 335.19 L 182.14 335.19 L 182.14 337.01 L 186.19 337.01 L 186.19 338.83 L 190.23 338.83 L 190.23 340.62 L 194.28 340.62 L 194.28 342.41 L 195.62 342.41 L 195.62 344.17 L 198.32 344.17 L 198.32 345.93 L 201.02 345.93 L 201.02 347.66 L 202.36 347.66 L 202.36 349.39 L 203.71 349.39 L 203.71 354.47 L 205.06 354.47 L 205.06 356.14 L 206.41 356.14 L 206.41 357.79 L 207.76 357.79 L 207.76 364.27 L 208.43 364.27 L 208.43 365.52 L 210.70 365.52 L 210.70 367.28 L 213.22 367.28 L 213.22 367.52 L 215.75 367.52 L 215.75 369.80 L 216.25 369.80 L 216.25 374.08 L 218.77 374.08 L 218.77 375.35 L 221.54 375.35 L 221.54 379.88 L 223.81 379.88 L 223.81 382.78 L 226.93 382.78 L 226.93 383.33 L 229.06 383.33 L 229.06 383.87 L 230.92 383.87 L 230.92 388.11 L 231.97 388.11 L 231.97 395.42 L 233.03 395.42 L 233.03 397.03 L 233.83 397.03 L 233.83 398.61 L 235.41 398.61 L 235.41 399.68 L 236.21 399.68 L 236.21 402.07 L 236.74 402.07 L 236.74 403.41 L 237.26 403.41 L 237.26 406.06 L 240.98 406.06 L 240.98 407.64 L 242.58 407.64 L 242.58 408.18 L 245.49 408.18 L 245.49 410.03 L 247.10 410.03 L 247.10 410.83 L 248.43 410.83 L 248.43 412.95 L 250.01 412.95 L 250.01 414.82 L 251.61 414.82 L 251.61 416.67 L 252.92 416.67 L 252.92 418.96 L 254.27 418.96 L 254.27 426.67 L 255.61 426.67 L 255.61 431.91 L 256.96 431.91 L 256.96 439.85 L 258.88 439.85 L 258.88 447.03 L 260.22 447.03 L 260.22 448.82 L 261.57 448.82 L 261.57 449.71 L 262.92 449.71 L 262.92 450.60 L 264.15 450.60 L 264.15 460.83 L 265.50 460.83 L 265.50 461.72 L 267.36 461.72 L 267.36 463.06 L 268.70 463.06 L 268.70 464.84 L 270.56 464.84 L 270.56 467.52 L 271.91 467.52 L 271.91 468.41 L 273.26 468.41 L 273.26 469.30 L 275.96 469.30 L 275.96 471.98 L 279.47 471.98 L 279.47 472.87 L 280.82 472.87 L 280.82 475.55 L 281.56 475.55 L 281.56 507.66 L 285.00 507.66" clip-path="url(#p0747b0f0e4)" style="fill: none; stroke: #e377c2; stroke-width: 1.5; stroke-linecap: square"/>
   </g>
   <g id="line2d_87">
    <path d="M 58.12 331.48 L 176.75 331.48 L 176.75 333.34 L 182.14 333.34 L 182.14 337.01 L 188.88 337.01 L 188.88 338.83 L 194.28 338.83 L 194.28 342.41 L 199.67 342.41 L 199.67 344.17 L 205.06 344.17 L 205.06 345.93 L 207.76 345.93 L 207.76 347.66 L 209.10 347.66 L 209.10 349.39 L 210.45 349.39 L 210.45 352.79 L 213.15 352.79 L 213.15 356.14 L 214.50 356.14 L 214.50 357.79 L 215.85 357.79 L 215.85 359.43 L 217.19 359.43 L 217.19 361.06 L 218.54 361.06 L 218.54 362.67 L 220.28 362.67 L 220.28 366.76 L 223.06 366.76 L 223.06 368.79 L 223.56 368.79 L 223.56 369.80 L 225.07 369.80 L 225.07 370.07 L 226.13 370.07 L 226.13 376.09 L 227.25 376.09 L 227.25 382.26 L 228.79 382.26 L 228.79 383.07 L 233.03 383.07 L 233.03 383.87 L 234.35 383.87 L 234.35 387.24 L 238.59 387.24 L 238.59 389.71 L 239.40 389.71 L 239.40 393.93 L 241.46 393.93 L 241.46 400.62 L 243.75 400.62 L 243.75 407.31 L 245.45 407.31 L 245.45 416.23 L 247.26 416.23 L 247.26 424.32 L 248.82 424.32 L 248.82 425.37 L 254.27 425.37 L 254.27 427.51 L 255.61 427.51 L 255.61 429.62 L 256.96 429.62 L 256.96 431.69 L 259.66 431.69 L 259.66 433.73 L 261.01 433.73 L 261.01 436.73 L 262.35 436.73 L 262.35 439.65 L 263.70 439.65 L 263.70 440.60 L 264.38 440.60 L 264.38 440.76 L 265.72 440.76 L 265.72 442.65 L 267.07 442.65 L 267.07 444.50 L 268.42 444.50 L 268.42 445.42 L 269.77 445.42 L 269.77 448.12 L 271.12 448.12 L 271.12 449.02 L 272.46 449.02 L 272.46 451.69 L 273.81 451.69 L 273.81 453.48 L 275.16 453.48 L 275.16 454.37 L 275.83 454.37 L 275.83 454.14 L 277.18 454.14 L 277.18 457.71 L 278.53 457.71 L 278.53 460.38 L 281.23 460.38 L 281.23 462.17 L 282.58 462.17 L 282.58 463.06 L 283.92 463.06 L 283.92 463.95 L 285.00 463.95 L 285.00 467.97 L 286.35 467.97 L 286.35 474.21 L 287.29 474.21" clip-path="url(#p0747b0f0e4)" style="fill: none; stroke: #7f7f7f; stroke-width: 1.5; stroke-linecap: square"/>
   </g>
   <g id="line2d_88">
    <path d="M 58.12 331.48 L 175.40 331.48 L 175.40 333.34 L 183.49 333.34 L 183.49 335.19 L 190.23 335.19 L 190.23 337.01 L 192.93 337.01 L 192.93 338.83 L 195.62 338.83 L 195.62 340.62 L 198.32 340.62 L 198.32 342.41 L 201.02 342.41 L 201.02 344.17 L 203.71 344.17 L 203.71 345.93 L 206.41 345.93 L 206.41 347.66 L 207.76 347.66 L 207.76 349.39 L 209.10 349.39 L 209.10 351.10 L 211.80 351.10 L 211.80 352.79 L 213.15 352.79 L 213.15 354.47 L 214.50 354.47 L 214.50 356.14 L 215.85 356.14 L 215.85 357.79 L 217.19 357.79 L 217.19 361.06 L 218.54 361.06 L 218.54 362.67 L 219.78 362.67 L 219.78 367.79 L 221.54 367.79 L 221.54 368.50 L 225.88 368.50 L 225.88 370.07 L 226.40 370.07 L 226.40 371.14 L 226.93 371.14 L 226.93 374.30 L 228.79 374.30 L 228.79 375.64 L 230.64 375.64 L 230.64 379.34 L 234.35 379.34 L 234.35 379.88 L 235.41 379.88 L 235.41 385.45 L 236.49 385.45 L 236.49 391.72 L 237.79 391.72 L 237.79 395.18 L 239.67 395.18 L 239.67 396.49 L 243.38 396.49 L 243.38 400.75 L 243.91 400.75 L 243.91 409.25 L 244.44 409.25 L 244.44 411.90 L 245.24 411.90 L 245.24 412.95 L 246.82 412.95 L 246.82 416.14 L 248.43 416.14 L 248.43 420.20 L 251.38 420.20 L 251.38 422.76 L 252.92 422.76 L 252.92 436.34 L 253.60 436.34 L 253.60 438.26 L 254.95 438.26 L 254.95 439.23 L 256.30 439.23 L 256.30 441.14 L 257.65 441.14 L 257.65 443.95 L 259.00 443.95 L 259.00 446.69 L 259.79 446.69 L 259.79 447.45 L 261.14 447.45 L 261.14 448.34 L 264.15 448.34 L 264.15 448.56 L 269.42 448.56 L 269.42 452.36 L 272.11 452.36 L 272.11 454.14 L 274.69 454.14 L 274.69 454.81 L 277.90 454.81 L 277.90 457.71 L 279.25 457.71 L 279.25 459.49 L 279.96 459.49 L 279.96 470.64 L 281.31 470.64 L 281.31 472.43 L 282.66 472.43 L 282.66 473.32 L 284.00 473.32 L 284.00 474.21 L 287.29 474.21" clip-path="url(#p0747b0f0e4)" style="fill: none; stroke: #bcbd22; stroke-width: 1.5; stroke-linecap: square"/>
   </g>
   <g id="line2d_89">
    <path d="M 58.12 331.48 L 176.30 331.48 L 176.30 333.34 L 181.69 333.34 L 181.69 335.19 L 193.83 335.19 L 193.83 338.83 L 197.87 338.83 L 197.87 340.62 L 205.96 340.62 L 205.96 342.41 L 207.31 342.41 L 207.31 344.17 L 208.65 344.17 L 208.65 345.93 L 210.00 345.93 L 210.00 347.66 L 211.35 347.66 L 211.35 351.10 L 212.70 351.10 L 212.70 354.47 L 214.05 354.47 L 214.05 356.14 L 215.40 356.14 L 215.40 359.43 L 216.74 359.43 L 216.74 361.06 L 218.09 361.06 L 218.09 364.27 L 218.77 364.27 L 218.77 365.76 L 219.27 365.76 L 219.27 367.79 L 220.54 367.79 L 220.54 370.80 L 222.30 370.80 L 222.30 372.72 L 226.13 372.72 L 226.13 374.03 L 226.93 374.03 L 226.93 376.18 L 227.73 376.18 L 227.73 376.96 L 228.79 376.96 L 228.79 379.61 L 234.08 379.61 L 234.08 380.68 L 235.41 380.68 L 235.41 383.87 L 235.94 383.87 L 235.94 385.45 L 237.01 385.45 L 237.01 386.79 L 240.45 386.79 L 240.45 390.76 L 240.98 390.76 L 240.98 392.79 L 241.78 392.79 L 241.78 396.49 L 242.58 396.49 L 242.58 400.22 L 245.24 400.22 L 245.24 404.99 L 245.77 404.99 L 245.77 407.11 L 246.82 407.11 L 246.82 411.90 L 247.35 411.90 L 247.35 416.67 L 248.43 416.67 L 248.43 421.74 L 250.63 421.74 L 250.63 431.28 L 251.91 431.28 L 251.91 435.18 L 254.52 435.18 L 254.52 435.85 L 257.22 435.85 L 257.22 436.84 L 258.57 436.84 L 258.57 437.82 L 259.91 437.82 L 259.91 439.76 L 260.94 439.76 L 260.94 441.04 L 263.63 441.04 L 263.63 441.99 L 268.27 441.99 L 268.27 442.32 L 269.62 442.32 L 269.62 443.26 L 276.75 443.26 L 276.75 443.21 L 276.98 443.21 L 276.98 470.64 L 281.02 470.64 L 281.02 471.53 L 282.37 471.53 L 282.37 472.43 L 283.17 472.43 L 283.17 474.66 L 284.52 474.66 L 284.52 476.44 L 286.84 476.44 L 286.84 477.11 L 287.29 477.11 L 287.29 554.49" clip-path="url(#p0747b0f0e4)" style="fill: none; stroke: #17becf; stroke-width: 1.5; stroke-linecap: square"/>
   </g>
   <g id="line2d_90">
    <path d="M 58.12 554.49 L 287.29 331.48" clip-path="url(#p0747b0f0e4)" style="fill: none; stroke-dasharray: 5.55,2.4; stroke-dashoffset: 0; stroke: #000000; stroke-width: 1.5"/>
   </g>
   <g id="patch_15">
    <path d="M 46.66 565.64 L 46.66 320.33" style="fill: none; stroke: #000000; stroke-width: 0.8; stroke-linejoin: miter; stroke-linecap: square"/>
   </g>
   <g id="patch_16">
    <path d="M 298.75 565.64 L 298.75 320.33" style="fill: none; stroke: #000000; stroke-width: 0.8; stroke-linejoin: miter; stroke-linecap: square"/>
   </g>
   <g id="patch_17">
    <path d="M 46.66 565.64 L 298.75 565.64" style="fill: none; stroke: #000000; stroke-width: 0.8; stroke-linejoin: miter; stroke-linecap: square"/>
   </g>
   <g id="patch_18">
    <path d="M 46.66 320.33 L 298.75 320.33" style="fill: none; stroke: #000000; stroke-width: 0.8; stroke-linejoin: miter; stroke-linecap: square"/>
   </g>
   <g id="text_66">
    <text style="font-weight: 700; font-size: 11px; font-family: 'DejaVu Sans', 'Liberation Sans', sans-serif; text-anchor: middle" x="172.711864" y="314.338983" transform="rotate(-0 172.711864 314.338983)">(C) PR curves</text>
   </g>
   <g id="legend_3">
    <g id="patch_19">
     <path d="M 52.26 561.64 L 247.53 561.64 Q 249.13 561.64 249.13 560.04 L 249.13 443.23 Q 249.13 441.63 247.53 441.63 L 52.26 441.63 Q 50.66 441.63 50.66 443.23 L 50.66 560.04 Q 50.66 561.64 52.26 561.64 z" style="fill: #ffffff; opacity: 0.8; stroke: #cccccc; stroke-linejoin: miter"/>
    </g>
    <g id="line2d_91">
     <path d="M 53.86 448.11 L 61.86 448.11 L 69.86 448.11" style="fill: none; stroke: #1f77b4; stroke-width: 1.5; stroke-linecap: square"/>
    </g>
    <g id="text_67">
     <text style="font-weight: 700; font-size: 8px; font-family: 'DejaVu Sans', 'Liberation Sans', sans-serif; text-anchor: start" x="76.266667" y="450.915968" transform="rotate(-0 76.266667 450.915968)">FEGS (AUC = 0.861)</text>
    </g>
    <g id="line2d_92">
     <path d="M 53.86 459.85 L 61.86 459.85 L 69.86 459.85" style="fill: none; stroke: #ff7f0e; stroke-width: 1.5; stroke-linecap: square"/>
    </g>
    <g id="text_68">
     <text style="font-weight: 700; font-size: 8px; font-family: 'DejaVu Sans', 'Liberation Sans', sans-serif; text-anchor: start" x="76.266667" y="462.658468" transform="rotate(-0 76.266667 462.658468)">Binary (AUC = 0.868)</text>
    </g>
    <g id="line2d_93">
     <path d="M 53.86 471.66 L 61.86 471.66 L 69.86 471.66" style="fill: none; stroke: #2ca02c; stroke-width: 1.5; stroke-linecap: square"/>
    </g>
    <g id="text_69">
     <text style="font-weight: 700; font-size: 8px; font-family: 'DejaVu Sans', 'Liberation Sans', sans-serif; text-anchor: start" x="76.266667" y="474.463468" transform="rotate(-0 76.266667 474.463468)">BERT (AUC = 0.825)</text>
    </g>
    <g id="line2d_94">
     <path d="M 53.86 483.40 L 61.86 483.40 L 69.86 483.40" style="fill: none; stroke: #d62728; stroke-width: 1.5; stroke-linecap: square"/>
    </g>
    <g id="text_70">
     <text style="font-weight: 700; font-size: 8px; font-family: 'DejaVu Sans', 'Liberation Sans', sans-serif; text-anchor: start" x="76.266667" y="486.205968" transform="rotate(-0 76.266667 486.205968)">BLOSUM (AUC = 0.854)</text>
    </g>
    <g id="line2d_95">
     <path d="M 53.86 495.14 L 61.86 495.14 L 69.86 495.14" style="fill: none; stroke: #9467bd; stroke-width: 1.5; stroke-linecap: square"/>
    </g>
    <g id="text_71">
     <text style="font-weight: 700; font-size: 8px; font-family: 'DejaVu Sans', 'Liberation Sans', sans-serif; text-anchor: start" x="76.266667" y="497.948468" transform="rotate(-0 76.266667 497.948468)">AAC (AUC = 0.856)</text>
    </g>
    <g id="line2d_96">
     <path d="M 53.86 506.89 L 61.86 506.89 L 69.86 506.89" style="fill: none; stroke: #8c564b; stroke-width: 1.5; stroke-linecap: square"/>
    </g>
    <g id="text_72">
     <text style="font-weight: 700; font-size: 8px; font-family: 'DejaVu Sans', 'Liberation Sans', sans-serif; text-anchor: start" x="76.266667" y="509.690968" transform="rotate(-0 76.266667 509.690968)">DPC (AUC = 0.852)</text>
    </g>
    <g id="line2d_97">
     <path d="M 53.86 518.63 L 61.86 518.63 L 69.86 518.63" style="fill: none; stroke: #e377c2; stroke-width: 1.5; stroke-linecap: square"/>
    </g>
    <g id="text_73">
     <text style="font-weight: 700; font-size: 8px; font-family: 'DejaVu Sans', 'Liberation Sans', sans-serif; text-anchor: start" x="76.266667" y="521.433468" transform="rotate(-0 76.266667 521.433468)">CKSAAPG (AUC = 0.851)</text>
    </g>
    <g id="line2d_98">
     <path d="M 53.86 530.37 L 61.86 530.37 L 69.86 530.37" style="fill: none; stroke: #7f7f7f; stroke-width: 1.5; stroke-linecap: square"/>
    </g>
    <g id="text_74">
     <text style="font-weight: 700; font-size: 8px; font-family: 'DejaVu Sans', 'Liberation Sans', sans-serif; text-anchor: start" x="76.266667" y="533.175968" transform="rotate(-0 76.266667 533.175968)">FEGS+BLOSUM (AUC = 0.869)</text>
    </g>
    <g id="line2d_99">
     <path d="M 53.86 542.11 L 61.86 542.11 L 69.86 542.11" style="fill: none; stroke: #bcbd22; stroke-width: 1.5; stroke-linecap: square"/>
    </g>
    <g id="text_75">
     <text style="font-weight: 700; font-size: 8px; font-family: 'DejaVu Sans', 'Liberation Sans', sans-serif; text-anchor: start" x="76.266667" y="544.918468" transform="rotate(-0 76.266667 544.918468)">FEGS+Binary (AUC = 0.868)</text>
    </g>
    <g id="line2d_100">
     <path d="M 53.86 553.92 L 61.86 553.92 L 69.86 553.92" style="fill: none; stroke: #17becf; stroke-width: 1.5; stroke-linecap: square"/>
    </g>
    <g id="text_76">
     <text style="font-weight: 700; font-size: 8px; font-family: 'DejaVu Sans', 'Liberation Sans', sans-serif; text-anchor: start" x="76.266667" y="556.723468" transform="rotate(-0 76.266667 556.723468)">FEGS+BLOSUM+Binary (AUC = 0.870)</text>
    </g>
   </g>
  </g>
  <g id="axes_4">
   <g id="patch_20">
    <path d="M 349.49 565.64 L 601.69 565.64 L 601.69 320.33 L 349.49 320.33 z" style="fill: #ffffff"/>
   </g>
   <g id="matplotlib.axis_7">
    <g id="xtick_19">
     <g id="line2d_101">
      <g>
       <use href="#m1504cfccaf" x="349.491525" y="565.649718" style="stroke: #000000; stroke-width: 0.8"/>
      </g>
     </g>
     <g id="text_77">
      <text style="font-size: 10px; font-family: 'DejaVu Sans', 'Liberation Sans', sans-serif; text-anchor: middle" x="349.491525" y="580.248155" transform="rotate(-0 349.491525 580.248155)">0.50</text>
     </g>
    </g>
    <g id="xtick_20">
     <g id="line2d_102">
      <g>
       <use href="#m1504cfccaf" x="385.520581" y="565.649718" style="stroke: #000000; stroke-width: 0.8"/>
      </g>
     </g>
     <g id="text_78">
      <text style="font-size: 10px; font-family: 'DejaVu Sans', 'Liberation Sans', sans-serif; text-anchor: middle" x="385.520581" y="580.248155" transform="rotate(-0 385.520581 580.248155)">0.55</text>
     </g>
    </g>
    <g id="xtick_21">
     <g id="line2d_103">
      <g>
       <use href="#m1504cfccaf" x="421.549637" y="565.649718" style="stroke: #000000; stroke-width: 0.8"/>
      </g>
     </g>
     <g id="text_79">
      <text style="font-size: 10px; font-family: 'DejaVu Sans', 'Liberation Sans', sans-serif; text-anchor: middle" x="421.549637" y="580.248155" transform="rotate(-0 421.549637 580.248155)">0.60</text>
     </g>
    </g>
    <g id="xtick_22">
     <g id="line2d_104">
      <g>
       <use href="#m1504cfccaf" x="457.578692" y="565.649718" style="stroke: #000000; stroke-width: 0.8"/>
      </g>
     </g>
     <g id="text_80">
      <text style="font-size: 10px; font-family: 'DejaVu Sans', 'Liberation Sans', sans-serif; text-anchor: middle" x="457.578692" y="580.248155" transform="rotate(-0 457.578692 580.248155)">0.65</text>
     </g>
    </g>
    <g id="xtick_23">
     <g id="line2d_105">
      <g>
       <use href="#m1504cfccaf" x="493.607748" y="565.649718" style="stroke: #000000; stroke-width: 0.8"/>
      </g>
     </g>
     <g id="text_81">
      <text style="font-size: 10px; font-family: 'DejaVu Sans', 'Liberation Sans', sans-serif; text-anchor: middle" x="493.607748" y="580.248155" transform="rotate(-0 493.607748 580.248155)">0.70</text>
     </g>
    </g>
    <g id="xtick_24">
     <g id="line2d_106">
      <g>
       <use href="#m1504cfccaf" x="529.636804" y="565.649718" style="stroke: #000000; stroke-width: 0.8"/>
      </g>
     </g>
     <g id="text_82">
      <text style="font-size: 10px; font-family: 'DejaVu Sans', 'Liberation Sans', sans-serif; text-anchor: middle" x="529.636804" y="580.248155" transform="rotate(-0 529.636804 580.248155)">0.75</text>
     </g>
    </g>
    <g id="xtick_25">
     <g id="line2d_107">
      <g>
       <use href="#m1504cfccaf" x="565.66586" y="565.649718" style="stroke: #000000; stroke-width: 0.8"/>
      </g>
     </g>
     <g id="text_83">
      <text style="font-size: 10px; font-family: 'DejaVu Sans', 'Liberation Sans', sans-serif; text-anchor: middle" x="565.66586" y="580.248155" transform="rotate(-0 565.66586 580.248155)">0.80</text>
     </g>
    </g>
    <g id="xtick_26">
     <g id="line2d_108">
      <g>
       <use href="#m1504cfccaf" x="601.694915" y="565.649718" style="stroke: #000000; stroke-width: 0.8"/>
      </g>
     </g>
     <g id="text_84">
      <text style="font-size: 10px; font-family: 'DejaVu Sans', 'Liberation Sans', sans-serif; text-anchor: middle" x="601.694915" y="580.248155" transform="rotate(-0 601.694915 580.248155)">0.85</text>
     </g>
    </g>
    <g id="text_85">
     <text style="font-weight: 700; font-size: 10px; font-family: 'DejaVu Sans', 'Liberation Sans', sans-serif; text-anchor: middle" x="475.59322" y="593.92628" transform="rotate(-0 475.59322 593.92628)">Recall</text>
    </g>
   </g>
   <g id="matplotlib.axis_8">
    <g id="ytick_20">
     <g id="line2d_109">
      <g>
       <use href="#m5d545ce8f8" x="349.491525" y="565.649718" style="stroke: #000000; stroke-width: 0.8"/>
      </g>
     </g>
     <g id="text_86">
      <text style="font-size: 10px; font-family: 'DejaVu Sans', 'Liberation Sans', sans-serif; text-anchor: end" x="342.491525" y="569.448936" transform="rotate(-0 342.491525 569.448936)">0.50</text>
     </g>
    </g>
    <g id="ytick_21">
     <g id="line2d_110">
      <g>
       <use href="#m5d545ce8f8" x="349.491525" y="530.605327" style="stroke: #000000; stroke-width: 0.8"/>
      </g>
     </g>
     <g id="text_87">
      <text style="font-size: 10px; font-family: 'DejaVu Sans', 'Liberation Sans', sans-serif; text-anchor: end" x="342.491525" y="534.404546" transform="rotate(-0 342.491525 534.404546)">0.55</text>
     </g>
    </g>
    <g id="ytick_22">
     <g id="line2d_111">
      <g>
       <use href="#m5d545ce8f8" x="349.491525" y="495.560936" style="stroke: #000000; stroke-width: 0.8"/>
      </g>
     </g>
     <g id="text_88">
      <text style="font-size: 10px; font-family: 'DejaVu Sans', 'Liberation Sans', sans-serif; text-anchor: end" x="342.491525" y="499.360155" transform="rotate(-0 342.491525 499.360155)">0.60</text>
     </g>
    </g>
    <g id="ytick_23">
     <g id="line2d_112">
      <g>
       <use href="#m5d545ce8f8" x="349.491525" y="460.516546" style="stroke: #000000; stroke-width: 0.8"/>
      </g>
     </g>
     <g id="text_89">
      <text style="font-size: 10px; font-family: 'DejaVu Sans', 'Liberation Sans', sans-serif; text-anchor: end" x="342.491525" y="464.315764" transform="rotate(-0 342.491525 464.315764)">0.65</text>
     </g>
    </g>
    <g id="ytick_24">
     <g id="line2d_113">
      <g>
       <use href="#m5d545ce8f8" x="349.491525" y="425.472155" style="stroke: #000000; stroke-width: 0.8"/>
      </g>
     </g>
     <g id="text_90">
      <text style="font-size: 10px; font-family: 'DejaVu Sans', 'Liberation Sans', sans-serif; text-anchor: end" x="342.491525" y="429.271374" transform="rotate(-0 342.491525 429.271374)">0.70</text>
     </g>
    </g>
    <g id="ytick_25">
     <g id="line2d_114">
      <g>
       <use href="#m5d545ce8f8" x="349.491525" y="390.427764" style="stroke: #000000; stroke-width: 0.8"/>
      </g>
     </g>
     <g id="text_91">
      <text style="font-size: 10px; font-family: 'DejaVu Sans', 'Liberation Sans', sans-serif; text-anchor: end" x="342.491525" y="394.226983" transform="rotate(-0 342.491525 394.226983)">0.75</text>
     </g>
    </g>
    <g id="ytick_26">
     <g id="line2d_115">
      <g>
       <use href="#m5d545ce8f8" x="349.491525" y="355.383374" style="stroke: #000000; stroke-width: 0.8"/>
      </g>
     </g>
     <g id="text_92">
      <text style="font-size: 10px; font-family: 'DejaVu Sans', 'Liberation Sans', sans-serif; text-anchor: end" x="342.491525" y="359.182592" transform="rotate(-0 342.491525 359.182592)">0.80</text>
     </g>
    </g>
    <g id="ytick_27">
     <g id="line2d_116">
      <g>
       <use href="#m5d545ce8f8" x="349.491525" y="320.338983" style="stroke: #000000; stroke-width: 0.8"/>
      </g>
     </g>
     <g id="text_93">
      <text style="font-size: 10px; font-family: 'DejaVu Sans', 'Liberation Sans', sans-serif; text-anchor: end" x="342.491525" y="324.138202" transform="rotate(-0 342.491525 324.138202)">0.85</text>
     </g>
    </g>
    <g id="text_94">
     <text style="font-weight: 700; font-size: 10px; font-family: 'DejaVu Sans', 'Liberation Sans', sans-serif; text-anchor: middle" x="314.146213" y="442.99435" transform="rotate(-90 314.146213 442.99435)">Precision</text>
    </g>
   </g>
   <g id="line2d_117">
    <path d="M -1 215.20 L 353.73 215.20 L 353.73 221.04 L 366.44 221.04 L 366.44 226.83 L 391.87 226.83 L 391.87 232.58 L 400.35 232.58 L 400.35 238.27 L 408.83 238.27 L 408.83 243.92 L 425.78 243.92 L 425.78 249.52 L 438.50 249.52 L 438.50 260.59 L 446.98 260.59 L 446.98 266.05 L 451.22 266.05 L 451.22 271.47 L 463.93 271.47 L 463.93 276.84 L 468.17 276.84 L 468.17 282.16 L 476.65 282.16 L 476.65 292.69 L 480.89 292.69 L 480.89 303.03 L 485.13 303.03 L 485.13 313.21 L 489.57 313.21 L 489.57 322.93 L 494.32 322.93 L 494.32 326.08 L 499.08 326.08 L 499.08 335.61 L 500.66 335.61 L 500.66 341.92 L 503.84 341.92 L 503.84 354.61 L 507.01 354.61 L 507.01 362.53 L 510.18 362.53 L 510.18 367.29 L 514.14 367.29 L 514.14 374.79 L 517.45 374.79 L 517.45 379.84 L 530.78 379.84 L 530.78 384.82 L 533.23 384.82 L 533.23 388.18 L 535.83 388.18 L 535.83 392.95 L 542.46 392.95 L 542.46 396.52 L 545.84 396.52 L 545.84 401.50 L 550.02 401.50 L 550.02 406.54 L 554.13 406.54 L 554.13 407.87 L 558.31 407.87 L 558.31 417.90 L 559.18 417.90 L 559.18 427.85 L 562.49 427.85 L 562.49 446.21 L 565.66 446.21 L 565.66 454.55 L 573.37 454.55 L 573.37 461.21 L 579.21 461.21 L 579.21 469.62 L 585.84 469.62 L 585.84 471.24 L 595.85 471.24 L 595.85 479.58 L 601.69 479.58 L 601.69 483.21 L 605.93 483.21 L 605.93 500.95 L 610.17 500.95 L 610.17 507.84 L 614.41 507.84 L 614.41 524.57 L 618.64 524.57 L 618.64 540.61 L 622.46 540.61" clip-path="url(#pa2bed405ee)" style="fill: none; stroke: #1f77b4; stroke-width: 1.5; stroke-linecap: square"/>
   </g>
   <g id="line2d_118">
    <path d="M -1 215.20 L 357.96 215.20 L 357.96 221.04 L 374.92 221.04 L 374.92 226.83 L 391.87 226.83 L 391.87 232.58 L 408.83 232.58 L 408.83 238.27 L 425.78 238.27 L 425.78 243.92 L 442.74 243.92 L 442.74 249.52 L 446.98 249.52 L 446.98 255.08 L 468.17 255.08 L 468.17 260.59 L 480.89 260.59 L 480.89 271.47 L 485.13 271.47 L 485.13 282.16 L 502.08 282.16 L 502.08 287.45 L 508.01 287.45 L 508.01 327.34 L 511.62 327.34 L 511.62 334.35 L 514.14 334.35 L 514.14 341.36 L 520.77 341.36 L 520.77 348.37 L 522.50 348.37 L 522.50 358.11 L 525.81 358.11 L 525.81 374.79 L 527.47 374.79 L 527.47 394.84 L 530.78 394.84 L 530.78 407.94 L 537.49 407.94 L 537.49 414.95 L 540.80 414.95 L 540.80 419.51 L 547.50 419.51 L 547.50 422.87 L 550.02 422.87 L 550.02 427.85 L 553.34 427.85 L 553.34 437.87 L 555.86 437.87 L 555.86 445.37 L 590.88 445.37 L 590.88 464.58 L 592.54 464.58 L 592.54 489.11 L 601.69 489.11 L 601.69 492.67 L 605.93 492.67 L 605.93 499.69 L 610.17 499.69 L 610.17 506.60 L 616.10 506.60 L 616.10 509.57 L 620.34 509.57 L 620.34 516.32 L 622.46 516.32" clip-path="url(#pa2bed405ee)" style="fill: none; stroke: #ff7f0e; stroke-width: 1.5; stroke-linecap: square"/>
   </g>
   <g id="line2d_119">
    <path d="M -1 215.20 L 349.49 215.20 L 349.49 221.04 L 357.96 221.04 L 357.96 226.83 L 362.20 226.83 L 362.20 232.58 L 379.16 232.58 L 379.16 243.92 L 391.87 243.92 L 391.87 249.52 L 421.54 249.52 L 421.54 255.08 L 425.78 255.08 L 425.78 260.59 L 434.26 260.59 L 434.26 292.69 L 438.55 292.69 L 438.55 322.93 L 440.50 322.93 L 440.50 327.69 L 446.04 327.69 L 446.04 332.46 L 454.76 332.46 L 454.76 345.15 L 468.96 345.15 L 468.96 353.84 L 476.09 353.84 L 476.09 375.21 L 493.53 375.21 L 493.53 379.91 L 499.08 379.91 L 499.08 392.67 L 503.04 392.67 L 503.04 397.36 L 508.59 397.36 L 508.59 405.63 L 512.99 405.63 L 512.99 425.89 L 508.81 425.89 L 508.81 439.48 L 517.38 439.48 L 517.38 450.00 L 523.87 450.00 L 523.87 461.91 L 531.07 461.91 L 531.07 473.13 L 540.44 473.13 L 540.44 481.54 L 553.92 481.54 L 553.92 489.11 L 558.74 489.11 L 558.74 493.17 L 566.09 493.17 L 566.09 519.18 L 570.92 519.18 L 570.92 545.95 L 571.71 545.95 L 571.71 558.08 L 579.06 558.08 L 579.06 562.14 L 587.28 562.14 L 587.28 565.64 L 587.06 563.19 L 587.06 566.13 L 591.30 566.13 L 591.30 569.05 L 593.76 569.05 L 593.76 600.69 L 597.37 600.69 L 597.37 605.51" clip-path="url(#pa2bed405ee)" style="fill: none; stroke: #2ca02c; stroke-width: 1.5; stroke-linecap: square"/>
   </g>
   <g id="line2d_120">
    <path d="M -1 215.20 L 349.49 215.20 L 349.49 221.04 L 366.44 221.04 L 366.44 226.83 L 383.40 226.83 L 383.40 232.58 L 408.83 232.58 L 408.83 243.92 L 430.02 243.92 L 430.02 249.52 L 446.98 249.52 L 446.98 255.08 L 455.45 255.08 L 455.45 260.59 L 459.69 260.59 L 459.69 266.05 L 463.93 266.05 L 463.93 271.47 L 472.41 271.47 L 472.41 276.84 L 476.65 276.84 L 476.65 282.16 L 485.13 282.16 L 485.13 292.69 L 489.36 292.69 L 489.36 297.88 L 493.60 297.88 L 493.60 313.21 L 497.84 313.21 L 497.84 318.23 L 502.25 318.23 L 502.25 324.54 L 505.42 324.54 L 505.42 329.31 L 507.01 329.31 L 507.01 340.38 L 514.14 340.38 L 514.14 366.45 L 517.45 366.45 L 517.45 369.82 L 522.50 369.82 L 522.50 394.84 L 524.16 394.84 L 524.16 411.17 L 526.61 411.17 L 526.61 414.53 L 530.78 414.53 L 530.78 419.51 L 535.83 419.51 L 535.83 422.03 L 539.14 422.03 L 539.14 427.01 L 542.46 427.01 L 542.46 432.06 L 546.64 432.06 L 546.64 441.24 L 550.82 441.24 L 550.82 444.53 L 555.86 444.53 L 555.86 449.58 L 559.18 449.58 L 559.18 459.60 L 565.01 459.60 L 565.01 462.89 L 568.33 462.89 L 568.33 467.94 L 571.71 467.94 L 571.71 474.60 L 573.37 474.60 L 573.37 481.26 L 575.89 481.26 L 575.89 486.23 L 579.21 486.23 L 579.21 491.28 L 582.52 491.28 L 582.52 506.98 L 585.55 506.98 L 585.55 524.85 L 590.38 524.85 L 590.38 528.08 L 595.28 528.08 L 595.28 534.60 L 598.52 534.60 L 598.52 545.95 L 605.93 545.95 L 605.93 555.13 L 610.17 555.13 L 610.17 558.13 L 614.41 558.13 L 614.41 561.12 L 618.64 561.12 L 618.64 569.92 L 622.46 569.92" clip-path="url(#pa2bed405ee)" style="fill: none; stroke: #d62728; stroke-width: 1.5; stroke-linecap: square"/>
   </g>
   <g id="line2d_121">
    <path d="M -1 215.20 L 357.96 215.20 L 357.96 221.04 L 366.44 221.04 L 366.44 226.83 L 387.63 226.83 L 387.63 232.58 L 391.87 232.58 L 391.87 238.27 L 400.35 238.27 L 400.35 243.92 L 421.54 243.92 L 421.54 249.52 L 425.78 249.52 L 425.78 255.08 L 430.02 255.08 L 430.02 260.59 L 434.26 260.59 L 434.26 266.05 L 438.50 266.05 L 438.50 271.47 L 446.98 271.47 L 446.98 276.84 L 451.22 276.84 L 451.22 287.45 L 455.45 287.45 L 455.45 292.69 L 459.69 292.69 L 459.69 297.88 L 463.93 297.88 L 463.93 313.21 L 468.17 313.21 L 468.17 318.23 L 470.54 318.23 L 470.54 322.93 L 476.89 322.93 L 476.89 327.69 L 486.40 327.69 L 486.40 345.15 L 503.84 345.15 L 503.84 349.07 L 505.42 349.07 L 505.42 369.40 L 508.59 369.40 L 508.59 387.90 L 510.18 387.90 L 510.18 397.36 L 514.14 397.36 L 514.14 402.13 L 529.13 402.13 L 529.13 411.17 L 534.17 411.17 L 534.17 419.51 L 536.62 419.51 L 536.62 426.17 L 538.28 426.17 L 538.28 432.06 L 542.46 432.06 L 542.46 442.99 L 545.48 442.99 L 545.48 453.50 L 550.82 453.50 L 550.82 462.89 L 560.83 462.89 L 560.83 464.58 L 564.15 464.58 L 564.15 467.94 L 568.33 467.94 L 568.33 471.24 L 570.85 471.24 L 570.85 477.89 L 572.51 477.89 L 572.51 480.42 L 582.52 480.42 L 582.52 482.94 L 594.20 482.94 L 594.20 487.92 L 601.69 487.92 L 601.69 495.02 L 605.93 495.02 L 605.93 498.53 L 610.17 498.53 L 610.17 508.88 L 614.41 508.88 L 614.41 518.98 L 620.43 518.98 L 620.43 537.00 L 622.46 537.00" clip-path="url(#pa2bed405ee)" style="fill: none; stroke: #9467bd; stroke-width: 1.5; stroke-linecap: square"/>
   </g>
   <g id="line2d_122">
    <path d="M -1 215.20 L 349.49 215.20 L 349.49 221.04 L 370.68 221.04 L 370.68 226.83 L 383.40 226.83 L 383.40 238.27 L 400.35 238.27 L 400.35 243.92 L 413.07 243.92 L 413.07 249.52 L 425.78 249.52 L 425.78 255.08 L 434.26 255.08 L 434.26 266.05 L 442.74 266.05 L 442.74 276.84 L 446.98 276.84 L 446.98 282.16 L 451.22 282.16 L 451.22 292.69 L 459.69 292.69 L 459.69 303.03 L 463.93 303.03 L 463.93 313.21 L 469.75 313.21 L 469.75 326.92 L 476.89 326.92 L 476.89 331.69 L 484.02 331.69 L 484.02 349.07 L 487.98 349.07 L 487.98 357.76 L 494.32 357.76 L 494.32 364.14 L 499.08 364.14 L 499.08 368.84 L 508.59 368.84 L 508.59 372.06 L 514.14 372.06 L 514.14 376.41 L 519.11 376.41 L 519.11 391.54 L 522.50 391.54 L 522.50 398.20 L 526.68 398.20 L 526.68 401.50 L 530.78 401.50 L 530.78 404.51 L 539.14 404.51 L 539.14 417.83 L 542.46 417.83 L 542.46 421.19 L 544.19 421.19 L 544.19 436.19 L 545.84 436.19 L 545.84 446.49 L 548.37 446.49 L 548.37 460.51 L 551.68 460.51 L 551.68 471.24 L 554.13 471.24 L 554.13 479.58 L 556.65 479.58 L 556.65 482.94 L 559.18 482.94 L 559.18 486.23 L 562.78 486.23 L 562.78 497.24 L 575.82 497.24 L 575.82 502.07 L 579.06 502.07 L 579.06 523.24 L 590.38 523.24 L 590.38 528.08 L 598.52 528.08 L 598.52 532.98 L 601.69 532.98 L 601.69 536.18 L 605.93 536.18 L 605.93 539.34 L 610.17 539.34 L 610.17 542.48 L 614.41 542.48 L 614.41 551.74 L 622.46 551.74" clip-path="url(#pa2bed405ee)" style="fill: none; stroke: #8c564b; stroke-width: 1.5; stroke-linecap: square"/>
   </g>
   <g id="line2d_123">
    <path d="M -1 215.20 L 362.20 215.20 L 362.20 221.04 L 366.44 221.04 L 366.44 226.83 L 379.16 226.83 L 379.16 232.58 L 391.87 232.58 L 391.87 238.27 L 404.59 238.27 L 404.59 243.92 L 417.31 243.92 L 417.31 249.52 L 421.54 249.52 L 421.54 255.08 L 430.02 255.08 L 430.02 260.59 L 438.50 260.59 L 438.50 266.05 L 442.74 266.05 L 442.74 271.47 L 446.98 271.47 L 446.98 287.45 L 451.22 287.45 L 451.22 292.69 L 455.45 292.69 L 455.45 297.88 L 459.69 297.88 L 459.69 318.23 L 461.83 318.23 L 461.83 322.16 L 468.96 322.16 L 468.96 327.69 L 476.89 327.69 L 476.89 328.46 L 484.81 328.46 L 484.81 335.61 L 486.40 335.61 L 486.40 349.07 L 494.32 349.07 L 494.32 353.07 L 503.04 353.07 L 503.04 367.29 L 510.18 367.29 L 510.18 376.41 L 519.98 376.41 L 519.98 378.16 L 526.68 378.16 L 526.68 379.84 L 532.51 379.84 L 532.51 393.16 L 535.83 393.16 L 535.83 416.15 L 539.14 416.15 L 539.14 421.19 L 541.67 421.19 L 541.67 426.17 L 546.64 426.17 L 546.64 429.53 L 549.16 429.53 L 549.16 437.03 L 550.82 437.03 L 550.82 441.24 L 552.47 441.24 L 552.47 449.58 L 564.15 449.58 L 564.15 454.55 L 569.19 454.55 L 569.19 456.24 L 578.34 456.24 L 578.34 462.05 L 583.39 462.05 L 583.39 464.58 L 587.57 464.58 L 587.57 471.24 L 592.54 471.24 L 592.54 477.12 L 597.58 477.12 L 597.58 482.94 L 601.69 482.94 L 601.69 490.13 L 605.93 490.13 L 605.93 514.36 L 610.17 514.36 L 610.17 530.83 L 614.41 530.83 L 614.41 555.77 L 620.43 555.77 L 620.43 578.35 L 622.46 578.35" clip-path="url(#pa2bed405ee)" style="fill: none; stroke: #e377c2; stroke-width: 1.5; stroke-linecap: square"/>
   </g>
   <g id="line2d_124">
    <path d="M -1 215.20 L 362.20 215.20 L 362.20 221.04 L 379.16 221.04 L 379.16 232.58 L 400.35 232.58 L 400.35 238.27 L 417.31 238.27 L 417.31 249.52 L 434.26 249.52 L 434.26 255.08 L 451.22 255.08 L 451.22 260.59 L 459.69 260.59 L 459.69 266.05 L 463.93 266.05 L 463.93 271.47 L 468.17 271.47 L 468.17 282.16 L 476.65 282.16 L 476.65 292.69 L 480.89 292.69 L 480.89 297.88 L 485.13 297.88 L 485.13 303.03 L 489.36 303.03 L 489.36 308.14 L 493.60 308.14 L 493.60 313.21 L 499.08 313.21 L 499.08 326.08 L 507.80 326.08 L 507.80 332.46 L 509.38 332.46 L 509.38 335.61 L 514.14 335.61 L 514.14 336.45 L 517.45 336.45 L 517.45 355.38 L 520.98 355.38 L 520.98 374.79 L 525.81 374.79 L 525.81 377.32 L 539.14 377.32 L 539.14 379.84 L 543.32 379.84 L 543.32 390.42 L 556.65 390.42 L 556.65 398.20 L 559.18 398.20 L 559.18 411.45 L 565.66 411.45 L 565.66 432.48 L 572.87 432.48 L 572.87 453.50 L 578.20 453.50 L 578.20 481.54 L 583.89 481.54 L 583.89 506.98 L 588.79 506.98 L 588.79 510.27 L 605.93 510.27 L 605.93 517.01 L 610.17 517.01 L 610.17 523.63 L 614.41 523.63 L 614.41 530.15 L 622.46 530.15" clip-path="url(#pa2bed405ee)" style="fill: none; stroke: #7f7f7f; stroke-width: 1.5; stroke-linecap: square"/>
   </g>
   <g id="line2d_125">
    <path d="M -1 215.20 L 357.96 215.20 L 357.96 221.04 L 383.40 221.04 L 383.40 226.83 L 404.59 226.83 L 404.59 232.58 L 413.07 232.58 L 413.07 238.27 L 421.54 238.27 L 421.54 243.92 L 430.02 243.92 L 430.02 249.52 L 438.50 249.52 L 438.50 255.08 L 446.98 255.08 L 446.98 260.59 L 455.45 260.59 L 455.45 266.05 L 459.69 266.05 L 459.69 271.47 L 463.93 271.47 L 463.93 276.84 L 472.41 276.84 L 472.41 282.16 L 476.65 282.16 L 476.65 287.45 L 480.89 287.45 L 480.89 292.69 L 485.13 292.69 L 485.13 297.88 L 489.36 297.88 L 489.36 308.14 L 493.60 308.14 L 493.60 313.21 L 497.49 313.21 L 497.49 329.31 L 503.04 329.31 L 503.04 331.55 L 516.66 331.55 L 516.66 336.45 L 518.32 336.45 L 518.32 339.82 L 519.98 339.82 L 519.98 349.77 L 525.81 349.77 L 525.81 353.98 L 531.65 353.98 L 531.65 365.61 L 543.32 365.61 L 543.32 367.29 L 546.64 367.29 L 546.64 384.82 L 550.02 384.82 L 550.02 404.51 L 554.13 404.51 L 554.13 415.37 L 560.04 415.37 L 560.04 419.51 L 571.71 419.51 L 571.71 432.90 L 573.37 432.90 L 573.37 459.60 L 575.03 459.60 L 575.03 467.94 L 577.55 467.94 L 577.55 471.24 L 582.52 471.24 L 582.52 481.26 L 587.57 481.26 L 587.57 494.01 L 596.86 494.01 L 596.86 502.07 L 601.69 502.07 L 601.69 544.75 L 603.85 544.75 L 603.85 550.78 L 608.09 550.78 L 608.09 553.83 L 612.33 553.83 L 612.33 559.84 L 616.57 559.84 L 616.57 568.67 L 620.81 568.67 L 620.81 577.29 L 622.46 577.29" clip-path="url(#pa2bed405ee)" style="fill: none; stroke: #bcbd22; stroke-width: 1.5; stroke-linecap: square"/>
   </g>
   <g id="line2d_126">
    <path d="M -1 215.20 L 360.79 215.20 L 360.79 221.04 L 377.74 221.04 L 377.74 226.83 L 415.89 226.83 L 415.89 238.27 L 428.61 238.27 L 428.61 243.92 L 454.04 243.92 L 454.04 249.52 L 458.28 249.52 L 458.28 255.08 L 462.52 255.08 L 462.52 260.59 L 466.75 260.59 L 466.75 266.05 L 470.99 266.05 L 470.99 276.84 L 475.23 276.84 L 475.23 287.45 L 479.47 287.45 L 479.47 292.69 L 483.71 292.69 L 483.71 303.03 L 487.95 303.03 L 487.95 308.14 L 492.19 308.14 L 492.19 318.23 L 494.32 318.23 L 494.32 322.93 L 495.91 322.93 L 495.91 329.31 L 499.87 329.31 L 499.87 338.77 L 505.42 338.77 L 505.42 344.79 L 517.45 344.79 L 517.45 348.93 L 519.98 348.93 L 519.98 355.66 L 522.50 355.66 L 522.50 358.11 L 525.81 358.11 L 525.81 366.45 L 542.46 366.45 L 542.46 369.82 L 546.64 369.82 L 546.64 379.84 L 548.29 379.84 L 548.29 384.82 L 551.68 384.82 L 551.68 389.02 L 562.49 389.02 L 562.49 401.50 L 564.15 401.50 L 564.15 407.87 L 566.67 407.87 L 566.67 419.51 L 569.19 419.51 L 569.19 431.21 L 577.55 431.21 L 577.55 446.21 L 579.21 446.21 L 579.21 452.87 L 582.52 452.87 L 582.52 467.94 L 584.18 467.94 L 584.18 482.94 L 587.57 482.94 L 587.57 498.85 L 594.48 498.85 L 594.48 528.85 L 598.52 528.85 L 598.52 541.11 L 606.73 541.11 L 606.73 543.22 L 615.21 543.22 L 615.21 546.32 L 619.45 546.32 L 619.45 549.40 L 622.46 549.40" clip-path="url(#pa2bed405ee)" style="fill: none; stroke: #17becf; stroke-width: 1.5; stroke-linecap: square"/>
   </g>
   <g id="line2d_127">
    <path d="M 308.50 605.51 L 622.46 300.13" clip-path="url(#pa2bed405ee)" style="fill: none; stroke-dasharray: 5.55,2.4; stroke-dashoffset: 0; stroke: #000000; stroke-width: 1.5"/>
   </g>
   <g id="patch_21">
    <path d="M 349.49 565.64 L 349.49 320.33" style="fill: none; stroke: #000000; stroke-width: 0.8; stroke-linejoin: miter; stroke-linecap: square"/>
   </g>
   <g id="patch_22">
    <path d="M 601.69 565.64 L 601.69 320.33" style="fill: none; stroke: #000000; stroke-width: 0.8; stroke-linejoin: miter; stroke-linecap: square"/>
   </g>
   <g id="patch_23">
    <path d="M 349.49 565.64 L 601.69 565.64" style="fill: none; stroke: #000000; stroke-width: 0.8; stroke-linejoin: miter; stroke-linecap: square"/>
   </g>
   <g id="patch_24">
    <path d="M 349.49 320.33 L 601.69 320.33" style="fill: none; stroke: #000000; stroke-width: 0.8; stroke-linejoin: miter; stroke-linecap: square"/>
   </g>
   <g id="text_95">
    <text style="font-weight: 700; font-size: 11px; font-family: 'DejaVu Sans', 'Liberation Sans', sans-serif; text-anchor: middle" x="475.59322" y="314.338983" transform="rotate(-0 475.59322 314.338983)">(D) PR curves</text>
   </g>
   <g id="legend_4">
    <g id="patch_25">
     <path d="M 355.09 561.64 L 550.35 561.64 Q 551.95 561.64 551.95 560.04 L 551.95 443.23 Q 551.95 441.63 550.35 441.63 L 355.09 441.63 Q 353.49 441.63 353.49 443.23 L 353.49 560.04 Q 353.49 561.64 355.09 561.64 z" style="fill: #ffffff; opacity: 0.8; stroke: #cccccc; stroke-linejoin: miter"/>
    </g>
    <g id="line2d_128">
     <path d="M 356.69 448.11 L 364.69 448.11 L 372.69 448.11" style="fill: none; stroke: #1f77b4; stroke-width: 1.5; stroke-linecap: square"/>
    </g>
    <g id="text_96">
     <text style="font-weight: 700; font-size: 8px; font-family: 'DejaVu Sans', 'Liberation Sans', sans-serif; text-anchor: start" x="379.091525" y="450.915968" transform="rotate(-0 379.091525 450.915968)">FEGS (AUC = 0.861)</text>
    </g>
    <g id="line2d_129">
     <path d="M 356.69 459.85 L 364.69 459.85 L 372.69 459.85" style="fill: none; stroke: #ff7f0e; stroke-width: 1.5; stroke-linecap: square"/>
    </g>
    <g id="text_97">
     <text style="font-weight: 700; font-size: 8px; font-family: 'DejaVu Sans', 'Liberation Sans', sans-serif; text-anchor: start" x="379.091525" y="462.658468" transform="rotate(-0 379.091525 462.658468)">Binary (AUC = 0.868)</text>
    </g>
    <g id="line2d_130">
     <path d="M 356.69 471.66 L 364.69 471.66 L 372.69 471.66" style="fill: none; stroke: #2ca02c; stroke-width: 1.5; stroke-linecap: square"/>
    </g>
    <g id="text_98">
     <text style="font-weight: 700; font-size: 8px; font-family: 'DejaVu Sans', 'Liberation Sans', sans-serif; text-anchor: start" x="379.091525" y="474.463468" transform="rotate(-0 379.091525 474.463468)">BERT (AUC = 0.825)</text>
    </g>
    <g id="line2d_131">
     <path d="M 356.69 483.40 L 364.69 483.40 L 372.69 483.40" style="fill: none; stroke: #d62728; stroke-width: 1.5; stroke-linecap: square"/>
    </g>
    <g id="text_99">
     <text style="font-weight: 700; font-size: 8px; font-family: 'DejaVu Sans', 'Liberation Sans', sans-serif; text-anchor: start" x="379.091525" y="486.205968" transform="rotate(-0 379.091525 486.205968)">BLOSUM (AUC = 0.854)</text>
    </g>
    <g id="line2d_132">
     <path d="M 356.69 495.14 L 364.69 495.14 L 372.69 495.14" style="fill: none; stroke: #9467bd; stroke-width: 1.5; stroke-linecap: square"/>
    </g>
    <g id="text_100">
     <text style="font-weight: 700; font-size: 8px; font-family: 'DejaVu Sans', 'Liberation Sans', sans-serif; text-anchor: start" x="379.091525" y="497.948468" transform="rotate(-0 379.091525 497.948468)">AAC (AUC = 0.856)</text>
    </g>
    <g id="line2d_133">
     <path d="M 356.69 506.89 L 364.69 506.89 L 372.69 506.89" style="fill: none; stroke: #8c564b; stroke-width: 1.5; stroke-linecap: square"/>
    </g>
    <g id="text_101">
     <text style="font-weight: 700; font-size: 8px; font-family: 'DejaVu Sans', 'Liberation Sans', sans-serif; text-anchor: start" x="379.091525" y="509.690968" transform="rotate(-0 379.091525 509.690968)">DPC (AUC = 0.852)</text>
    </g>
    <g id="line2d_134">
     <path d="M 356.69 518.63 L 364.69 518.63 L 372.69 518.63" style="fill: none; stroke: #e377c2; stroke-width: 1.5; stroke-linecap: square"/>
    </g>
    <g id="text_102">
     <text style="font-weight: 700; font-size: 8px; font-family: 'DejaVu Sans', 'Liberation Sans', sans-serif; text-anchor: start" x="379.091525" y="521.433468" transform="rotate(-0 379.091525 521.433468)">CKSAAPG (AUC = 0.851)</text>
    </g>
    <g id="line2d_135">
     <path d="M 356.69 530.37 L 364.69 530.37 L 372.69 530.37" style="fill: none; stroke: #7f7f7f; stroke-width: 1.5; stroke-linecap: square"/>
    </g>
    <g id="text_103">
     <text style="font-weight: 700; font-size: 8px; font-family: 'DejaVu Sans', 'Liberation Sans', sans-serif; text-anchor: start" x="379.091525" y="533.175968" transform="rotate(-0 379.091525 533.175968)">FEGS+BLOSUM (AUC = 0.869)</text>
    </g>
    <g id="line2d_136">
     <path d="M 356.69 542.11 L 364.69 542.11 L 372.69 542.11" style="fill: none; stroke: #bcbd22; stroke-width: 1.5; stroke-linecap: square"/>
    </g>
    <g id="text_104">
     <text style="font-weight: 700; font-size: 8px; font-family: 'DejaVu Sans', 'Liberation Sans', sans-serif; text-anchor: start" x="379.091525" y="544.918468" transform="rotate(-0 379.091525 544.918468)">FEGS+Binary (AUC = 0.868)</text>
    </g>
    <g id="line2d_137">
     <path d="M 356.69 553.92 L 364.69 553.92 L 372.69 553.92" style="fill: none; stroke: #17becf; stroke-width: 1.5; stroke-linecap: square"/>
    </g>
    <g id="text_105">
     <text style="font-weight: 700; font-size: 8px; font-family: 'DejaVu Sans', 'Liberation Sans', sans-serif; text-anchor: start" x="379.091525" y="556.723468" transform="rotate(-0 379.091525 556.723468)">FEGS+BLOSUM+Binary (AUC = 0.870)</text>
    </g>
   </g>
  </g>
 </g>
 <defs>
  <clipPath id="pe0418c8fc1">
   <rect x="46.666667" y="25.19774" width="252.090395" height="245.423729"/>
  </clipPath>
  <clipPath id="p07b802c079">
   <rect x="349.491525" y="25.19774" width="252.20339" height="245.423729"/>
  </clipPath>
  <clipPath id="p0747b0f0e4">
   <rect x="46.666667" y="320.338983" width="252.090395" height="245.310734"/>
  </clipPath>
  <clipPath id="pa2bed405ee">
   <rect x="349.491525" y="320.338983" width="252.20339" height="245.310734"/>
  </clipPath>
 </defs>
</svg>

</body></html>
